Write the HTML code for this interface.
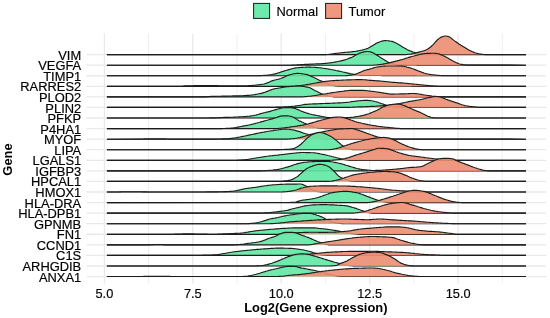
<!DOCTYPE html><html><head><meta charset="utf-8"><style>html,body{margin:0;padding:0;background:#fff;}svg{display:block;}text{font-family:"Liberation Sans",Arial,sans-serif;}</style></head><body>
<svg width="550" height="318" viewBox="0 0 550 318">
<rect width="550" height="318" fill="#fff"/>
<line x1="148.61" y1="33.6" x2="148.61" y2="283.5" stroke="#E9E9E9" stroke-width="0.75"/>
<line x1="237.04" y1="33.6" x2="237.04" y2="283.5" stroke="#E9E9E9" stroke-width="0.75"/>
<line x1="325.46" y1="33.6" x2="325.46" y2="283.5" stroke="#E9E9E9" stroke-width="0.75"/>
<line x1="413.89" y1="33.6" x2="413.89" y2="283.5" stroke="#E9E9E9" stroke-width="0.75"/>
<line x1="502.31" y1="33.6" x2="502.31" y2="283.5" stroke="#E9E9E9" stroke-width="0.75"/>
<line x1="104.4" y1="33.6" x2="104.4" y2="283.5" stroke="#E9E9E9" stroke-width="1.3"/>
<line x1="192.82" y1="33.6" x2="192.82" y2="283.5" stroke="#E9E9E9" stroke-width="1.3"/>
<line x1="281.25" y1="33.6" x2="281.25" y2="283.5" stroke="#E9E9E9" stroke-width="1.3"/>
<line x1="369.67" y1="33.6" x2="369.67" y2="283.5" stroke="#E9E9E9" stroke-width="1.3"/>
<line x1="458.1" y1="33.6" x2="458.1" y2="283.5" stroke="#E9E9E9" stroke-width="1.3"/>
<line x1="86.5" y1="54.6" x2="546.0" y2="54.6" stroke="#E9E9E9" stroke-width="1.3"/>
<line x1="86.5" y1="65.17" x2="546.0" y2="65.17" stroke="#E9E9E9" stroke-width="1.3"/>
<line x1="86.5" y1="75.74" x2="546.0" y2="75.74" stroke="#E9E9E9" stroke-width="1.3"/>
<line x1="86.5" y1="86.31" x2="546.0" y2="86.31" stroke="#E9E9E9" stroke-width="1.3"/>
<line x1="86.5" y1="96.88" x2="546.0" y2="96.88" stroke="#E9E9E9" stroke-width="1.3"/>
<line x1="86.5" y1="107.45" x2="546.0" y2="107.45" stroke="#E9E9E9" stroke-width="1.3"/>
<line x1="86.5" y1="118.01" x2="546.0" y2="118.01" stroke="#E9E9E9" stroke-width="1.3"/>
<line x1="86.5" y1="128.58" x2="546.0" y2="128.58" stroke="#E9E9E9" stroke-width="1.3"/>
<line x1="86.5" y1="139.15" x2="546.0" y2="139.15" stroke="#E9E9E9" stroke-width="1.3"/>
<line x1="86.5" y1="149.72" x2="546.0" y2="149.72" stroke="#E9E9E9" stroke-width="1.3"/>
<line x1="86.5" y1="160.29" x2="546.0" y2="160.29" stroke="#E9E9E9" stroke-width="1.3"/>
<line x1="86.5" y1="170.86" x2="546.0" y2="170.86" stroke="#E9E9E9" stroke-width="1.3"/>
<line x1="86.5" y1="181.43" x2="546.0" y2="181.43" stroke="#E9E9E9" stroke-width="1.3"/>
<line x1="86.5" y1="192" x2="546.0" y2="192" stroke="#E9E9E9" stroke-width="1.3"/>
<line x1="86.5" y1="202.57" x2="546.0" y2="202.57" stroke="#E9E9E9" stroke-width="1.3"/>
<line x1="86.5" y1="213.14" x2="546.0" y2="213.14" stroke="#E9E9E9" stroke-width="1.3"/>
<line x1="86.5" y1="223.7" x2="546.0" y2="223.7" stroke="#E9E9E9" stroke-width="1.3"/>
<line x1="86.5" y1="234.27" x2="546.0" y2="234.27" stroke="#E9E9E9" stroke-width="1.3"/>
<line x1="86.5" y1="244.84" x2="546.0" y2="244.84" stroke="#E9E9E9" stroke-width="1.3"/>
<line x1="86.5" y1="255.41" x2="546.0" y2="255.41" stroke="#E9E9E9" stroke-width="1.3"/>
<line x1="86.5" y1="265.98" x2="546.0" y2="265.98" stroke="#E9E9E9" stroke-width="1.3"/>
<line x1="86.5" y1="276.55" x2="546.0" y2="276.55" stroke="#E9E9E9" stroke-width="1.3"/>
<path d="M106.9 54.6L325.9 54.6L326.9 54.5L327.9 54.5L328.9 54.4L329.9 54.2L330.9 54.1L331.9 54L332.9 53.8L333.9 53.7L334.9 53.5L335.9 53.4L336.9 53.3L337.9 53.2L338.9 53.1L339.9 53L340.9 52.8L341.9 52.7L342.9 52.6L343.9 52.5L344.9 52.4L345.9 52.3L346.9 52.2L347.9 52.1L348.9 52.1L349.9 52L350.9 51.9L351.9 51.8L352.9 51.6L353.9 51.5L354.9 51.4L355.9 51.2L356.9 51.1L357.9 50.9L358.9 50.7L359.9 50.5L360.9 50.3L361.9 50.1L362.9 49.8L363.9 49.6L364.9 49.3L365.9 49L366.9 48.6L367.9 48.2L368.9 47.7L369.9 47.2L370.9 46.6L371.9 46L372.9 45.4L373.9 44.8L374.9 44.2L375.9 43.6L376.9 43L377.9 42.6L378.9 42.2L379.9 41.8L380.9 41.5L381.9 41.1L382.9 40.9L383.9 40.7L384.9 40.6L385.9 40.6L386.9 40.7L387.9 40.8L388.9 40.9L389.9 41L390.9 41.2L391.9 41.4L392.9 41.6L393.9 42L394.9 42.5L395.9 43L396.9 43.6L397.9 44.1L398.9 44.7L399.9 45.3L400.9 45.9L401.9 46.5L402.9 47.2L403.9 47.8L404.9 48.3L405.9 48.8L406.9 49.4L407.9 49.9L408.9 50.4L409.9 50.8L410.9 51.2L411.9 51.6L412.9 52L413.9 52.3L414.9 52.6L415.9 52.8L416.9 53.1L417.9 53.3L418.9 53.5L419.9 53.8L420.9 53.9L421.9 54.1L422.9 54.2L423.9 54.3L424.9 54.4L425.9 54.5L426.9 54.6L427.9 54.6L526 54.6" fill="#60E8A3" fill-opacity="0.9" stroke="#1c1c1c" stroke-width="1.15"/>

<path d="M106.9 54.6L405.9 54.6L406.9 54.5L407.9 54.4L408.9 54.3L409.9 54.2L410.9 54.1L411.9 53.9L412.9 53.7L413.9 53.5L414.9 53.3L415.9 53L416.9 52.7L417.9 52.4L418.9 52.1L419.9 51.8L420.9 51.6L421.9 51.3L422.9 51L423.9 50.7L424.9 50.4L425.9 50L426.9 49.5L427.9 48.9L428.9 48.3L429.9 47.5L430.9 46.7L431.9 45.8L432.9 44.9L433.9 43.9L434.9 42.7L435.9 41.5L436.9 40.4L437.9 39.5L438.9 38.6L439.9 37.9L440.9 37.3L441.9 36.9L442.9 36.5L443.9 36.2L444.9 36L445.9 36L446.9 36.2L447.9 36.4L448.9 36.8L449.9 37.2L450.9 37.9L451.9 38.8L452.9 39.6L453.9 40.4L454.9 41.1L455.9 41.8L456.9 42.5L457.9 43.2L458.9 43.9L459.9 44.5L460.9 45.2L461.9 45.8L462.9 46.4L463.9 47L464.9 47.6L465.9 48.2L466.9 48.8L467.9 49.4L468.9 50L469.9 50.5L470.9 51L471.9 51.5L472.9 51.9L473.9 52.3L474.9 52.7L475.9 53L476.9 53.3L477.9 53.6L478.9 53.8L479.9 54L480.9 54.1L481.9 54.3L482.9 54.4L483.9 54.5L484.9 54.6L485.9 54.6L526 54.6" fill="#EC8D72" fill-opacity="0.9" stroke="#1c1c1c" stroke-width="1.15"/>

<path d="M106.9 65.2L290.9 65.2L291.9 65.1L292.9 65.1L293.9 65.1L294.9 65L295.9 65L296.9 64.9L297.9 64.8L298.9 64.8L299.9 64.7L300.9 64.6L301.9 64.6L302.9 64.5L303.9 64.5L304.9 64.4L305.9 64.4L306.9 64.3L307.9 64.3L308.9 64.3L309.9 64.2L310.9 64.2L311.9 64.1L312.9 64.1L313.9 64L314.9 64L315.9 63.9L316.9 63.9L317.9 63.9L318.9 63.8L319.9 63.8L320.9 63.7L321.9 63.6L322.9 63.6L323.9 63.5L324.9 63.4L325.9 63.4L326.9 63.3L327.9 63.1L328.9 63L329.9 62.9L330.9 62.8L331.9 62.6L332.9 62.5L333.9 62.3L334.9 62.1L335.9 61.9L336.9 61.7L337.9 61.5L338.9 61.3L339.9 61.1L340.9 60.9L341.9 60.6L342.9 60.4L343.9 60.1L344.9 59.9L345.9 59.5L346.9 59.2L347.9 58.8L348.9 58.4L349.9 58L350.9 57.6L351.9 57.2L352.9 56.7L353.9 56.2L354.9 55.6L355.9 55.1L356.9 54.6L357.9 54.1L358.9 53.6L359.9 53.1L360.9 52.7L361.9 52.4L362.9 52.2L363.9 51.9L364.9 51.7L365.9 51.6L366.9 51.5L367.9 51.5L368.9 51.6L369.9 51.8L370.9 52.1L371.9 52.4L372.9 52.7L373.9 53.3L374.9 53.9L375.9 54.5L376.9 55.2L377.9 55.8L378.9 56.4L379.9 57.1L380.9 57.8L381.9 58.4L382.9 59L383.9 59.6L384.9 60.2L385.9 60.8L386.9 61.4L387.9 61.9L388.9 62.4L389.9 62.9L390.9 63.3L391.9 63.6L392.9 63.8L393.9 64.1L394.9 64.3L395.9 64.5L396.9 64.7L397.9 64.9L398.9 65L399.9 65L400.9 65L401.9 65L402.9 65L403.9 65L404.9 65L405.9 65L406.9 65L407.9 65L408.9 65L409.9 65L410.9 65L411.9 65L412.9 65L413.9 65L414.9 65L415.9 65L416.9 65.1L417.9 65.1L418.9 65.1L419.9 65.1L420.9 65.1L421.9 65.1L422.9 65.1L423.9 65.1L424.9 65.1L425.9 65.1L426.9 65.1L427.9 65.1L428.9 65.1L429.9 65.1L430.9 65.1L431.9 65.1L432.9 65.1L433.9 65.1L434.9 65.1L435.9 65.1L436.9 65.1L437.9 65.1L438.9 65.1L439.9 65.1L440.9 65.1L441.9 65.1L442.9 65.1L443.9 65.1L444.9 65.1L445.9 65.1L446.9 65.1L447.9 65.1L448.9 65.1L449.9 65.1L450.9 65.1L451.9 65.1L452.9 65.1L453.9 65.1L454.9 65.1L455.9 65.1L456.9 65.1L457.9 65.1L458.9 65.1L459.9 65.1L460.9 65.1L461.9 65.1L462.9 65.1L463.9 65.1L464.9 65.1L465.9 65.1L466.9 65.1L467.9 65.1L468.9 65.1L469.9 65.1L526 65.2" fill="#60E8A3" fill-opacity="0.9" stroke="#1c1c1c" stroke-width="1.15"/>

<path d="M106.9 65.2L372.9 65.2L373.9 65.1L374.9 65L375.9 65L376.9 64.9L377.9 64.7L378.9 64.6L379.9 64.5L380.9 64.4L381.9 64.2L382.9 64.1L383.9 63.9L384.9 63.7L385.9 63.5L386.9 63.3L387.9 63.1L388.9 62.9L389.9 62.6L390.9 62.4L391.9 62.1L392.9 61.9L393.9 61.6L394.9 61.4L395.9 61.1L396.9 60.9L397.9 60.6L398.9 60.4L399.9 60.1L400.9 59.8L401.9 59.6L402.9 59.3L403.9 59L404.9 58.6L405.9 58.3L406.9 58L407.9 57.7L408.9 57.4L409.9 57.1L410.9 56.8L411.9 56.5L412.9 56.2L413.9 56L414.9 55.7L415.9 55.4L416.9 55.2L417.9 54.9L418.9 54.7L419.9 54.5L420.9 54.3L421.9 54.1L422.9 53.9L423.9 53.8L424.9 53.6L425.9 53.5L426.9 53.4L427.9 53.3L428.9 53.3L429.9 53.3L430.9 53.2L431.9 53.2L432.9 53.2L433.9 53.2L434.9 53.3L435.9 53.4L436.9 53.5L437.9 53.7L438.9 53.9L439.9 54.3L440.9 54.7L441.9 55.1L442.9 55.6L443.9 56L444.9 56.5L445.9 57L446.9 57.6L447.9 58.1L448.9 58.7L449.9 59.3L450.9 59.8L451.9 60.4L452.9 60.9L453.9 61.4L454.9 61.9L455.9 62.4L456.9 62.9L457.9 63.3L458.9 63.7L459.9 64L460.9 64.2L461.9 64.4L462.9 64.6L463.9 64.7L464.9 64.9L465.9 65L466.9 65.1L467.9 65.1L468.9 65.1L469.9 65.1L470.9 65.1L471.9 65.1L472.9 65.1L473.9 65.1L474.9 65.1L475.9 65.1L476.9 65.1L477.9 65.1L478.9 65.1L479.9 65.1L480.9 65.1L481.9 65.1L482.9 65.1L483.9 65.1L484.9 65.1L485.9 65.1L486.9 65.1L487.9 65.1L488.9 65.1L489.9 65.1L490.9 65.1L491.9 65.1L526 65.2" fill="#EC8D72" fill-opacity="0.9" stroke="#1c1c1c" stroke-width="1.15"/>

<path d="M106.9 75.7L210.9 75.7L211.9 75.7L212.9 75.7L213.9 75.7L214.9 75.7L215.9 75.7L216.9 75.7L217.9 75.7L218.9 75.7L219.9 75.7L220.9 75.7L221.9 75.7L222.9 75.7L223.9 75.7L224.9 75.7L225.9 75.7L226.9 75.7L227.9 75.7L228.9 75.7L229.9 75.7L230.9 75.7L231.9 75.7L232.9 75.7L233.9 75.7L234.9 75.7L235.9 75.7L236.9 75.7L237.9 75.7L238.9 75.7L239.9 75.7L240.9 75.7L241.9 75.7L242.9 75.7L243.9 75.7L244.9 75.7L245.9 75.7L246.9 75.7L247.9 75.7L248.9 75.7L249.9 75.7L250.9 75.7L251.9 75.7L252.9 75.7L253.9 75.7L254.9 75.7L255.9 75.7L256.9 75.7L257.9 75.7L258.9 75.6L259.9 75.6L260.9 75.6L261.9 75.5L262.9 75.5L263.9 75.4L264.9 75.4L265.9 75.3L266.9 75.2L267.9 75.1L268.9 75L269.9 74.8L270.9 74.7L271.9 74.5L272.9 74.3L273.9 74.1L274.9 73.9L275.9 73.6L276.9 73.4L277.9 73L278.9 72.7L279.9 72.4L280.9 72L281.9 71.7L282.9 71.4L283.9 71.1L284.9 70.8L285.9 70.5L286.9 70.2L287.9 69.9L288.9 69.6L289.9 69.3L290.9 69.1L291.9 68.8L292.9 68.5L293.9 68.3L294.9 68.1L295.9 67.9L296.9 67.8L297.9 67.7L298.9 67.6L299.9 67.5L300.9 67.4L301.9 67.3L302.9 67.3L303.9 67.2L304.9 67.2L305.9 67.1L306.9 67.1L307.9 67.1L308.9 67.1L309.9 67.1L310.9 67.1L311.9 67.2L312.9 67.2L313.9 67.3L314.9 67.4L315.9 67.4L316.9 67.5L317.9 67.6L318.9 67.7L319.9 67.8L320.9 67.9L321.9 68L322.9 68.2L323.9 68.3L324.9 68.5L325.9 68.6L326.9 68.8L327.9 69L328.9 69.1L329.9 69.3L330.9 69.5L331.9 69.7L332.9 69.8L333.9 70L334.9 70.2L335.9 70.5L336.9 70.7L337.9 70.9L338.9 71.1L339.9 71.3L340.9 71.5L341.9 71.8L342.9 72L343.9 72.2L344.9 72.4L345.9 72.7L346.9 72.9L347.9 73.1L348.9 73.3L349.9 73.6L350.9 73.8L351.9 74L352.9 74.1L353.9 74.3L354.9 74.4L355.9 74.6L356.9 74.7L357.9 74.9L358.9 75L359.9 75.1L360.9 75.3L361.9 75.3L362.9 75.4L363.9 75.5L364.9 75.5L365.9 75.5L366.9 75.5L367.9 75.5L368.9 75.5L369.9 75.5L370.9 75.5L371.9 75.5L372.9 75.5L373.9 75.5L374.9 75.5L375.9 75.5L376.9 75.5L377.9 75.5L378.9 75.5L379.9 75.5L380.9 75.5L381.9 75.6L382.9 75.6L383.9 75.6L384.9 75.6L385.9 75.6L386.9 75.6L387.9 75.6L388.9 75.6L389.9 75.6L390.9 75.6L391.9 75.6L392.9 75.6L393.9 75.6L394.9 75.6L395.9 75.6L396.9 75.6L397.9 75.6L398.9 75.6L399.9 75.6L400.9 75.6L401.9 75.6L402.9 75.6L403.9 75.6L404.9 75.6L405.9 75.6L406.9 75.6L407.9 75.6L408.9 75.6L409.9 75.6L410.9 75.6L411.9 75.6L412.9 75.6L413.9 75.6L414.9 75.6L415.9 75.6L416.9 75.7L417.9 75.7L418.9 75.7L419.9 75.7L420.9 75.7L421.9 75.7L422.9 75.7L423.9 75.7L424.9 75.7L425.9 75.7L426.9 75.7L427.9 75.7L428.9 75.7L429.9 75.7L430.9 75.7L431.9 75.7L432.9 75.7L433.9 75.7L434.9 75.7L435.9 75.7L436.9 75.7L437.9 75.7L438.9 75.7L439.9 75.7L440.9 75.7L441.9 75.7L442.9 75.7L443.9 75.7L444.9 75.7L445.9 75.7L446.9 75.7L447.9 75.7L448.9 75.7L449.9 75.7L450.9 75.7L451.9 75.7L452.9 75.7L453.9 75.7L454.9 75.7L455.9 75.7L456.9 75.7L457.9 75.7L458.9 75.7L459.9 75.7L460.9 75.7L461.9 75.7L462.9 75.7L463.9 75.7L464.9 75.7L526 75.7" fill="#60E8A3" fill-opacity="0.9" stroke="#1c1c1c" stroke-width="1.15"/>

<path d="M106.9 75.7L276.9 75.7L277.9 75.7L278.9 75.7L279.9 75.7L280.9 75.7L281.9 75.7L282.9 75.7L283.9 75.7L284.9 75.7L285.9 75.7L286.9 75.7L287.9 75.7L288.9 75.7L289.9 75.7L290.9 75.7L291.9 75.7L292.9 75.7L293.9 75.7L294.9 75.7L295.9 75.7L296.9 75.7L297.9 75.7L298.9 75.7L299.9 75.7L300.9 75.7L301.9 75.7L302.9 75.7L303.9 75.7L304.9 75.7L305.9 75.7L306.9 75.7L307.9 75.7L308.9 75.7L309.9 75.7L310.9 75.7L311.9 75.7L312.9 75.7L313.9 75.7L314.9 75.7L315.9 75.7L316.9 75.7L317.9 75.7L318.9 75.7L319.9 75.7L320.9 75.7L321.9 75.7L322.9 75.7L323.9 75.7L324.9 75.7L325.9 75.7L326.9 75.7L327.9 75.7L328.9 75.7L329.9 75.7L330.9 75.7L331.9 75.7L332.9 75.7L333.9 75.7L334.9 75.7L335.9 75.7L336.9 75.7L337.9 75.7L338.9 75.7L339.9 75.7L340.9 75.7L341.9 75.7L342.9 75.7L343.9 75.7L344.9 75.7L345.9 75.7L346.9 75.6L347.9 75.5L348.9 75.4L349.9 75.3L350.9 75.1L351.9 75L352.9 74.8L353.9 74.6L354.9 74.4L355.9 74.1L356.9 73.7L357.9 73.3L358.9 72.8L359.9 72.4L360.9 71.9L361.9 71.4L362.9 71L363.9 70.6L364.9 70.3L365.9 70.1L366.9 69.8L367.9 69.6L368.9 69.4L369.9 69.1L370.9 68.8L371.9 68.5L372.9 68.1L373.9 67.8L374.9 67.5L375.9 67.2L376.9 67L377.9 66.9L378.9 66.7L379.9 66.6L380.9 66.4L381.9 66.3L382.9 66.2L383.9 66.1L384.9 66.1L385.9 66L386.9 66L387.9 66L388.9 66L389.9 66L390.9 66L391.9 66L392.9 66L393.9 66L394.9 66L395.9 66L396.9 66L397.9 66L398.9 66L399.9 66L400.9 66L401.9 66.1L402.9 66.2L403.9 66.3L404.9 66.6L405.9 66.8L406.9 67.1L407.9 67.3L408.9 67.6L409.9 67.8L410.9 68.1L411.9 68.5L412.9 68.8L413.9 69.2L414.9 69.6L415.9 70L416.9 70.4L417.9 70.8L418.9 71.1L419.9 71.5L420.9 71.9L421.9 72.3L422.9 72.6L423.9 73L424.9 73.3L425.9 73.6L426.9 73.8L427.9 74L428.9 74.2L429.9 74.4L430.9 74.5L431.9 74.7L432.9 74.8L433.9 74.9L434.9 75L435.9 75.1L436.9 75.2L437.9 75.3L438.9 75.4L439.9 75.5L440.9 75.5L441.9 75.6L442.9 75.6L443.9 75.7L444.9 75.7L445.9 75.7L446.9 75.7L447.9 75.7L448.9 75.7L449.9 75.7L450.9 75.7L451.9 75.7L452.9 75.7L453.9 75.7L454.9 75.7L455.9 75.7L456.9 75.7L457.9 75.7L458.9 75.7L459.9 75.7L460.9 75.7L461.9 75.7L462.9 75.7L463.9 75.7L464.9 75.7L465.9 75.7L466.9 75.7L467.9 75.7L468.9 75.7L469.9 75.7L526 75.7" fill="#EC8D72" fill-opacity="0.9" stroke="#1c1c1c" stroke-width="1.15"/>

<path d="M106.9 86.3L180.9 86.3L181.9 86.2L182.9 86.1L183.9 86L184.9 85.9L185.9 85.8L186.9 85.8L187.9 85.7L188.9 85.7L189.9 85.7L190.9 85.7L191.9 85.7L192.9 85.7L193.9 85.6L194.9 85.6L195.9 85.6L196.9 85.6L197.9 85.6L198.9 85.6L199.9 85.6L200.9 85.6L201.9 85.6L202.9 85.6L203.9 85.6L204.9 85.6L205.9 85.6L206.9 85.6L207.9 85.6L208.9 85.6L209.9 85.6L210.9 85.6L211.9 85.6L212.9 85.6L213.9 85.6L214.9 85.6L215.9 85.6L216.9 85.6L217.9 85.6L218.9 85.7L219.9 85.7L220.9 85.7L221.9 85.7L222.9 85.7L223.9 85.7L224.9 85.7L225.9 85.8L226.9 85.8L227.9 85.8L228.9 85.8L229.9 85.9L230.9 85.9L231.9 85.9L232.9 85.9L233.9 85.9L234.9 85.9L235.9 85.9L236.9 85.9L237.9 85.9L238.9 85.9L239.9 85.9L240.9 85.9L241.9 85.8L242.9 85.8L243.9 85.8L244.9 85.8L245.9 85.7L246.9 85.7L247.9 85.7L248.9 85.6L249.9 85.6L250.9 85.5L251.9 85.5L252.9 85.4L253.9 85.3L254.9 85.2L255.9 85.1L256.9 85L257.9 84.9L258.9 84.8L259.9 84.6L260.9 84.5L261.9 84.3L262.9 84.2L263.9 84L264.9 83.7L265.9 83.4L266.9 83L267.9 82.6L268.9 82.2L269.9 81.7L270.9 81.3L271.9 80.9L272.9 80.6L273.9 80.3L274.9 80L275.9 79.8L276.9 79.5L277.9 79.3L278.9 79.1L279.9 78.8L280.9 78.5L281.9 78.1L282.9 77.6L283.9 77.2L284.9 76.7L285.9 76.2L286.9 75.8L287.9 75.4L288.9 75.1L289.9 74.8L290.9 74.6L291.9 74.3L292.9 74L293.9 73.8L294.9 73.6L295.9 73.5L296.9 73.4L297.9 73.4L298.9 73.4L299.9 73.5L300.9 73.6L301.9 73.7L302.9 73.9L303.9 74L304.9 74.2L305.9 74.4L306.9 74.6L307.9 74.9L308.9 75.3L309.9 75.7L310.9 76.2L311.9 76.6L312.9 77.1L313.9 77.6L314.9 78.1L315.9 78.6L316.9 79.1L317.9 79.6L318.9 80.1L319.9 80.5L320.9 80.9L321.9 81.3L322.9 81.7L323.9 82.1L324.9 82.5L325.9 83L326.9 83.4L327.9 83.9L328.9 84.2L329.9 84.6L330.9 84.8L331.9 85.1L332.9 85.3L333.9 85.6L334.9 85.8L335.9 85.9L336.9 86L337.9 86.1L338.9 86.1L339.9 86.1L340.9 86.1L341.9 86.1L342.9 86.1L343.9 86.1L344.9 86.1L345.9 86.1L346.9 86.1L347.9 86.1L348.9 86.1L349.9 86.1L350.9 86.1L351.9 86.1L352.9 86.1L353.9 86.1L354.9 86.1L355.9 86.1L356.9 86.1L357.9 86.1L358.9 86.1L359.9 86.1L360.9 86.1L361.9 86.2L362.9 86.2L363.9 86.2L364.9 86.2L365.9 86.2L366.9 86.2L367.9 86.2L368.9 86.2L369.9 86.2L370.9 86.2L371.9 86.2L372.9 86.2L373.9 86.2L374.9 86.2L375.9 86.2L376.9 86.2L377.9 86.2L378.9 86.2L379.9 86.2L380.9 86.2L381.9 86.2L382.9 86.2L383.9 86.2L384.9 86.2L385.9 86.2L386.9 86.2L387.9 86.2L388.9 86.2L389.9 86.2L390.9 86.2L391.9 86.2L392.9 86.2L393.9 86.2L394.9 86.2L395.9 86.2L396.9 86.2L397.9 86.2L398.9 86.2L399.9 86.2L400.9 86.2L401.9 86.2L402.9 86.2L403.9 86.2L404.9 86.2L405.9 86.2L406.9 86.2L407.9 86.2L408.9 86.2L409.9 86.2L410.9 86.2L411.9 86.3L412.9 86.3L413.9 86.3L414.9 86.3L415.9 86.3L416.9 86.3L417.9 86.3L418.9 86.3L419.9 86.3L420.9 86.3L421.9 86.3L422.9 86.3L423.9 86.3L424.9 86.3L425.9 86.3L426.9 86.3L427.9 86.3L428.9 86.3L429.9 86.3L430.9 86.3L431.9 86.3L432.9 86.3L433.9 86.3L434.9 86.3L435.9 86.3L436.9 86.3L437.9 86.3L438.9 86.3L439.9 86.3L440.9 86.3L441.9 86.3L442.9 86.3L443.9 86.3L444.9 86.3L445.9 86.3L446.9 86.3L447.9 86.3L526 86.3" fill="#60E8A3" fill-opacity="0.9" stroke="#1c1c1c" stroke-width="1.15"/>

<path d="M106.9 86.3L290.9 86.3L291.9 86.3L292.9 86.2L293.9 86.2L294.9 86.1L295.9 86L296.9 85.9L297.9 85.8L298.9 85.7L299.9 85.6L300.9 85.5L301.9 85.4L302.9 85.2L303.9 85.1L304.9 85L305.9 84.8L306.9 84.6L307.9 84.4L308.9 84.2L309.9 84.1L310.9 83.9L311.9 83.7L312.9 83.5L313.9 83.3L314.9 83.2L315.9 83L316.9 82.8L317.9 82.6L318.9 82.4L319.9 82.2L320.9 82.1L321.9 81.9L322.9 81.8L323.9 81.6L324.9 81.5L325.9 81.4L326.9 81.3L327.9 81.1L328.9 81L329.9 80.9L330.9 80.8L331.9 80.7L332.9 80.6L333.9 80.6L334.9 80.5L335.9 80.4L336.9 80.4L337.9 80.3L338.9 80.3L339.9 80.2L340.9 80.2L341.9 80.1L342.9 80.1L343.9 80L344.9 80L345.9 80L346.9 79.9L347.9 79.9L348.9 79.9L349.9 79.8L350.9 79.8L351.9 79.7L352.9 79.7L353.9 79.7L354.9 79.7L355.9 79.6L356.9 79.6L357.9 79.6L358.9 79.6L359.9 79.6L360.9 79.6L361.9 79.6L362.9 79.7L363.9 79.7L364.9 79.8L365.9 79.9L366.9 80L367.9 80.1L368.9 80.2L369.9 80.3L370.9 80.3L371.9 80.4L372.9 80.5L373.9 80.6L374.9 80.6L375.9 80.7L376.9 80.8L377.9 80.8L378.9 80.9L379.9 81L380.9 81.1L381.9 81.2L382.9 81.3L383.9 81.4L384.9 81.5L385.9 81.6L386.9 81.7L387.9 81.8L388.9 81.9L389.9 82L390.9 82.1L391.9 82.2L392.9 82.3L393.9 82.3L394.9 82.4L395.9 82.5L396.9 82.6L397.9 82.6L398.9 82.7L399.9 82.8L400.9 82.8L401.9 82.9L402.9 83L403.9 83.1L404.9 83.2L405.9 83.3L406.9 83.4L407.9 83.5L408.9 83.6L409.9 83.7L410.9 83.8L411.9 83.9L412.9 84L413.9 84.1L414.9 84.2L415.9 84.3L416.9 84.4L417.9 84.5L418.9 84.6L419.9 84.7L420.9 84.8L421.9 84.9L422.9 85L423.9 85.1L424.9 85.2L425.9 85.3L426.9 85.4L427.9 85.5L428.9 85.6L429.9 85.7L430.9 85.8L431.9 85.9L432.9 85.9L433.9 86L434.9 86.1L435.9 86.1L436.9 86.1L437.9 86.2L438.9 86.2L439.9 86.2L440.9 86.3L441.9 86.3L442.9 86.3L526 86.3" fill="#EC8D72" fill-opacity="0.9" stroke="#1c1c1c" stroke-width="1.15"/>

<path d="M106.9 96.9L203.9 96.9L204.9 96.8L205.9 96.8L206.9 96.7L207.9 96.6L208.9 96.6L209.9 96.5L210.9 96.4L211.9 96.4L212.9 96.3L213.9 96.3L214.9 96.3L215.9 96.3L216.9 96.2L217.9 96.2L218.9 96.2L219.9 96.2L220.9 96.2L221.9 96.1L222.9 96.1L223.9 96.1L224.9 96.1L225.9 96.1L226.9 96L227.9 96L228.9 96L229.9 96L230.9 96L231.9 96L232.9 95.9L233.9 95.9L234.9 95.9L235.9 95.9L236.9 95.9L237.9 95.8L238.9 95.8L239.9 95.8L240.9 95.7L241.9 95.7L242.9 95.7L243.9 95.6L244.9 95.5L245.9 95.5L246.9 95.4L247.9 95.3L248.9 95.3L249.9 95.2L250.9 95.1L251.9 95L252.9 94.9L253.9 94.7L254.9 94.6L255.9 94.4L256.9 94.2L257.9 94L258.9 93.8L259.9 93.6L260.9 93.4L261.9 93.1L262.9 92.9L263.9 92.6L264.9 92.3L265.9 91.9L266.9 91.5L267.9 91.1L268.9 90.7L269.9 90.3L270.9 89.9L271.9 89.5L272.9 89.2L273.9 88.9L274.9 88.7L275.9 88.5L276.9 88.4L277.9 88.2L278.9 88L279.9 87.9L280.9 87.7L281.9 87.5L282.9 87.4L283.9 87.2L284.9 87L285.9 86.9L286.9 86.8L287.9 86.6L288.9 86.6L289.9 86.5L290.9 86.4L291.9 86.3L292.9 86.3L293.9 86.2L294.9 86.2L295.9 86.1L296.9 86.1L297.9 86.1L298.9 86.1L299.9 86.1L300.9 86.1L301.9 86.2L302.9 86.4L303.9 86.5L304.9 86.7L305.9 86.9L306.9 87.1L307.9 87.3L308.9 87.5L309.9 87.8L310.9 88.2L311.9 88.8L312.9 89.4L313.9 89.9L314.9 90.5L315.9 91L316.9 91.5L317.9 92L318.9 92.5L319.9 93L320.9 93.5L321.9 93.9L322.9 94.3L323.9 94.7L324.9 95L325.9 95.4L326.9 95.6L327.9 95.9L328.9 96L329.9 96.2L330.9 96.4L331.9 96.5L332.9 96.7L333.9 96.8L334.9 96.8L335.9 96.9L526 96.9" fill="#60E8A3" fill-opacity="0.9" stroke="#1c1c1c" stroke-width="1.15"/>

<path d="M106.9 96.9L300.9 96.9L301.9 96.8L302.9 96.8L303.9 96.7L304.9 96.6L305.9 96.6L306.9 96.5L307.9 96.4L308.9 96.3L309.9 96.2L310.9 96.1L311.9 96L312.9 95.8L313.9 95.7L314.9 95.5L315.9 95.4L316.9 95.2L317.9 95L318.9 94.8L319.9 94.7L320.9 94.5L321.9 94.3L322.9 94.2L323.9 94L324.9 93.9L325.9 93.7L326.9 93.6L327.9 93.4L328.9 93.2L329.9 93.1L330.9 92.9L331.9 92.8L332.9 92.6L333.9 92.5L334.9 92.3L335.9 92.2L336.9 92L337.9 91.9L338.9 91.8L339.9 91.6L340.9 91.5L341.9 91.4L342.9 91.2L343.9 91.1L344.9 90.9L345.9 90.8L346.9 90.7L347.9 90.6L348.9 90.5L349.9 90.4L350.9 90.4L351.9 90.4L352.9 90.3L353.9 90.3L354.9 90.3L355.9 90.3L356.9 90.3L357.9 90.3L358.9 90.3L359.9 90.3L360.9 90.3L361.9 90.3L362.9 90.4L363.9 90.4L364.9 90.5L365.9 90.6L366.9 90.7L367.9 90.8L368.9 91L369.9 91.1L370.9 91.2L371.9 91.3L372.9 91.4L373.9 91.5L374.9 91.7L375.9 91.8L376.9 92L377.9 92.1L378.9 92.3L379.9 92.4L380.9 92.6L381.9 92.7L382.9 92.9L383.9 93.1L384.9 93.3L385.9 93.4L386.9 93.6L387.9 93.8L388.9 93.9L389.9 94L390.9 94.1L391.9 94.1L392.9 94.1L393.9 94.1L394.9 94L395.9 94L396.9 94L397.9 94L398.9 94L399.9 93.9L400.9 93.9L401.9 93.9L402.9 93.9L403.9 93.8L404.9 93.8L405.9 93.7L406.9 93.7L407.9 93.7L408.9 93.6L409.9 93.6L410.9 93.5L411.9 93.5L412.9 93.5L413.9 93.5L414.9 93.5L415.9 93.6L416.9 93.7L417.9 93.8L418.9 94L419.9 94.2L420.9 94.4L421.9 94.6L422.9 94.7L423.9 94.9L424.9 95L425.9 95.2L426.9 95.3L427.9 95.5L428.9 95.6L429.9 95.8L430.9 95.9L431.9 96.1L432.9 96.2L433.9 96.3L434.9 96.4L435.9 96.4L436.9 96.5L437.9 96.6L438.9 96.6L439.9 96.7L440.9 96.8L441.9 96.8L442.9 96.8L443.9 96.9L526 96.9" fill="#EC8D72" fill-opacity="0.9" stroke="#1c1c1c" stroke-width="1.15"/>

<path d="M106.9 107.4L248.9 107.4L249.9 107.4L250.9 107.4L251.9 107.4L252.9 107.4L253.9 107.4L254.9 107.4L255.9 107.4L256.9 107.4L257.9 107.4L258.9 107.4L259.9 107.3L260.9 107.3L261.9 107.3L262.9 107.3L263.9 107.3L264.9 107.3L265.9 107.3L266.9 107.3L267.9 107.3L268.9 107.2L269.9 107.2L270.9 107.2L271.9 107.2L272.9 107.2L273.9 107.2L274.9 107.2L275.9 107.1L276.9 107.1L277.9 107.1L278.9 107.1L279.9 107.1L280.9 107L281.9 107L282.9 107L283.9 106.9L284.9 106.9L285.9 106.8L286.9 106.8L287.9 106.7L288.9 106.6L289.9 106.6L290.9 106.5L291.9 106.4L292.9 106.3L293.9 106.2L294.9 106.1L295.9 105.9L296.9 105.8L297.9 105.7L298.9 105.5L299.9 105.4L300.9 105.2L301.9 105L302.9 104.8L303.9 104.6L304.9 104.4L305.9 104.3L306.9 104.3L307.9 104.2L308.9 104.1L309.9 104.1L310.9 104L311.9 104L312.9 103.9L313.9 103.9L314.9 103.8L315.9 103.8L316.9 103.8L317.9 103.7L318.9 103.7L319.9 103.6L320.9 103.6L321.9 103.6L322.9 103.5L323.9 103.5L324.9 103.5L325.9 103.4L326.9 103.4L327.9 103.3L328.9 103.3L329.9 103.3L330.9 103.2L331.9 103.2L332.9 103.1L333.9 103.1L334.9 103.1L335.9 103L336.9 103L337.9 102.9L338.9 102.9L339.9 102.8L340.9 102.8L341.9 102.7L342.9 102.7L343.9 102.6L344.9 102.5L345.9 102.5L346.9 102.4L347.9 102.3L348.9 102.2L349.9 102L350.9 101.8L351.9 101.6L352.9 101.5L353.9 101.4L354.9 101.3L355.9 101.1L356.9 101L357.9 100.9L358.9 100.8L359.9 100.7L360.9 100.6L361.9 100.5L362.9 100.5L363.9 100.4L364.9 100.4L365.9 100.4L366.9 100.4L367.9 100.4L368.9 100.5L369.9 100.6L370.9 100.7L371.9 100.8L372.9 101L373.9 101.2L374.9 101.5L375.9 101.7L376.9 102L377.9 102.3L378.9 102.7L379.9 103L380.9 103.4L381.9 103.7L382.9 104L383.9 104.4L384.9 104.7L385.9 105L386.9 105.4L387.9 105.7L388.9 106L389.9 106.2L390.9 106.4L391.9 106.6L392.9 106.8L393.9 107L394.9 107.2L395.9 107.3L396.9 107.4L397.9 107.4L526 107.4" fill="#60E8A3" fill-opacity="0.9" stroke="#1c1c1c" stroke-width="1.15"/>

<path d="M106.9 107.4L342.9 107.4L343.9 107.4L344.9 107.4L345.9 107.4L346.9 107.3L347.9 107.3L348.9 107.3L349.9 107.3L350.9 107.2L351.9 107.2L352.9 107.1L353.9 107.1L354.9 107.1L355.9 107L356.9 107L357.9 106.9L358.9 106.9L359.9 106.9L360.9 106.8L361.9 106.8L362.9 106.8L363.9 106.7L364.9 106.7L365.9 106.6L366.9 106.6L367.9 106.6L368.9 106.5L369.9 106.5L370.9 106.4L371.9 106.4L372.9 106.3L373.9 106.3L374.9 106.2L375.9 106.2L376.9 106.1L377.9 106L378.9 106L379.9 105.9L380.9 105.9L381.9 105.8L382.9 105.7L383.9 105.6L384.9 105.6L385.9 105.5L386.9 105.4L387.9 105.3L388.9 105.1L389.9 105L390.9 104.9L391.9 104.8L392.9 104.6L393.9 104.5L394.9 104.3L395.9 104.2L396.9 104L397.9 103.9L398.9 103.7L399.9 103.5L400.9 103.3L401.9 103.1L402.9 102.9L403.9 102.7L404.9 102.5L405.9 102.3L406.9 102.1L407.9 101.8L408.9 101.6L409.9 101.4L410.9 101.3L411.9 101.1L412.9 100.9L413.9 100.7L414.9 100.6L415.9 100.4L416.9 100.2L417.9 100L418.9 99.9L419.9 99.7L420.9 99.5L421.9 99.3L422.9 99.1L423.9 98.8L424.9 98.6L425.9 98.3L426.9 98L427.9 97.8L428.9 97.6L429.9 97.4L430.9 97.2L431.9 97L432.9 96.8L433.9 96.6L434.9 96.5L435.9 96.5L436.9 96.5L437.9 96.6L438.9 96.8L439.9 97L440.9 97.2L441.9 97.5L442.9 97.9L443.9 98.3L444.9 98.7L445.9 99.2L446.9 99.5L447.9 99.9L448.9 100.2L449.9 100.6L450.9 100.9L451.9 101.2L452.9 101.6L453.9 101.9L454.9 102.2L455.9 102.6L456.9 102.9L457.9 103.2L458.9 103.6L459.9 104L460.9 104.3L461.9 104.7L462.9 105L463.9 105.3L464.9 105.6L465.9 105.8L466.9 106L467.9 106.1L468.9 106.2L469.9 106.4L470.9 106.5L471.9 106.6L472.9 106.7L473.9 106.8L474.9 106.9L475.9 107L476.9 107.1L477.9 107.2L478.9 107.3L479.9 107.4L480.9 107.4L481.9 107.4L526 107.4" fill="#EC8D72" fill-opacity="0.9" stroke="#1c1c1c" stroke-width="1.15"/>

<path d="M106.9 118L206.9 118L207.9 118L208.9 118L209.9 117.9L210.9 117.9L211.9 117.9L212.9 117.9L213.9 117.8L214.9 117.8L215.9 117.8L216.9 117.7L217.9 117.7L218.9 117.6L219.9 117.6L220.9 117.6L221.9 117.5L222.9 117.5L223.9 117.4L224.9 117.4L225.9 117.4L226.9 117.4L227.9 117.3L228.9 117.3L229.9 117.3L230.9 117.2L231.9 117.2L232.9 117.2L233.9 117.1L234.9 117.1L235.9 117L236.9 117L237.9 117L238.9 116.9L239.9 116.9L240.9 116.8L241.9 116.7L242.9 116.7L243.9 116.6L244.9 116.5L245.9 116.5L246.9 116.4L247.9 116.3L248.9 116.2L249.9 116.1L250.9 115.9L251.9 115.8L252.9 115.7L253.9 115.5L254.9 115.3L255.9 115.1L256.9 114.8L257.9 114.5L258.9 114.2L259.9 113.9L260.9 113.6L261.9 113.3L262.9 113.1L263.9 112.8L264.9 112.6L265.9 112.3L266.9 112.1L267.9 111.9L268.9 111.6L269.9 111.4L270.9 111.1L271.9 110.8L272.9 110.5L273.9 110.2L274.9 109.9L275.9 109.6L276.9 109.3L277.9 109.1L278.9 108.8L279.9 108.5L280.9 108.3L281.9 108L282.9 107.8L283.9 107.7L284.9 107.6L285.9 107.6L286.9 107.6L287.9 107.6L288.9 107.6L289.9 107.7L290.9 107.7L291.9 107.9L292.9 108L293.9 108.2L294.9 108.5L295.9 108.8L296.9 109.2L297.9 109.6L298.9 110.1L299.9 110.6L300.9 111L301.9 111.4L302.9 111.7L303.9 112.1L304.9 112.4L305.9 112.8L306.9 113.1L307.9 113.4L308.9 113.7L309.9 114L310.9 114.2L311.9 114.5L312.9 114.7L313.9 114.9L314.9 115.1L315.9 115.3L316.9 115.5L317.9 115.7L318.9 115.9L319.9 116.1L320.9 116.3L321.9 116.5L322.9 116.7L323.9 116.8L324.9 117L325.9 117.2L326.9 117.3L327.9 117.5L328.9 117.6L329.9 117.7L330.9 117.8L331.9 117.9L332.9 117.9L333.9 117.9L334.9 117.9L335.9 117.9L336.9 117.9L337.9 117.9L338.9 117.9L339.9 117.9L340.9 117.9L341.9 117.9L342.9 117.9L343.9 117.9L344.9 117.9L345.9 117.9L346.9 117.9L347.9 117.9L348.9 117.9L349.9 117.9L350.9 117.9L351.9 117.9L352.9 117.9L353.9 117.9L354.9 117.9L355.9 117.9L356.9 117.9L357.9 117.9L358.9 117.9L359.9 117.9L360.9 117.9L361.9 117.9L362.9 117.9L363.9 117.9L364.9 117.9L365.9 117.9L366.9 117.9L367.9 117.9L368.9 117.9L369.9 117.9L370.9 117.9L371.9 117.9L372.9 117.9L373.9 117.9L374.9 117.9L375.9 117.9L376.9 117.9L377.9 117.9L378.9 117.9L379.9 117.9L380.9 117.9L381.9 117.9L382.9 117.9L383.9 117.9L384.9 118L385.9 118L386.9 118L387.9 118L388.9 118L389.9 118L390.9 118L391.9 118L392.9 118L393.9 118L394.9 118L395.9 118L396.9 118L397.9 118L398.9 118L399.9 118L400.9 118L401.9 118L402.9 118L403.9 118L404.9 118L405.9 118L406.9 118L407.9 118L408.9 118L409.9 118L410.9 118L411.9 118L412.9 118L413.9 118L414.9 118L415.9 118L416.9 118L417.9 118L418.9 118L419.9 118L420.9 118L421.9 118L422.9 118L423.9 118L424.9 118L425.9 118L426.9 118L427.9 118L428.9 118L429.9 118L430.9 118L431.9 118L432.9 118L433.9 118L526 118" fill="#60E8A3" fill-opacity="0.9" stroke="#1c1c1c" stroke-width="1.15"/>

<path d="M106.9 118L339.9 118L340.9 118L341.9 117.9L342.9 117.9L343.9 117.8L344.9 117.8L345.9 117.7L346.9 117.7L347.9 117.6L348.9 117.5L349.9 117.5L350.9 117.4L351.9 117.3L352.9 117.2L353.9 117.1L354.9 116.9L355.9 116.8L356.9 116.6L357.9 116.5L358.9 116.3L359.9 116.1L360.9 115.9L361.9 115.7L362.9 115.4L363.9 115.2L364.9 114.9L365.9 114.6L366.9 114.3L367.9 114L368.9 113.7L369.9 113.3L370.9 112.9L371.9 112.5L372.9 112.1L373.9 111.6L374.9 111.2L375.9 110.7L376.9 110.3L377.9 109.8L378.9 109.2L379.9 108.7L380.9 108.1L381.9 107.6L382.9 107.1L383.9 106.6L384.9 106.2L385.9 105.9L386.9 105.5L387.9 105.2L388.9 105L389.9 104.7L390.9 104.6L391.9 104.5L392.9 104.4L393.9 104.3L394.9 104.2L395.9 104.1L396.9 104.1L397.9 104.1L398.9 104.1L399.9 104.2L400.9 104.5L401.9 104.8L402.9 105.2L403.9 105.5L404.9 105.9L405.9 106.3L406.9 106.7L407.9 107.2L408.9 107.6L409.9 108.1L410.9 108.6L411.9 109L412.9 109.4L413.9 109.9L414.9 110.3L415.9 110.7L416.9 111.1L417.9 111.5L418.9 111.9L419.9 112.3L420.9 112.8L421.9 113.2L422.9 113.7L423.9 114.2L424.9 114.7L425.9 115.3L426.9 115.8L427.9 116.3L428.9 116.6L429.9 116.9L430.9 117.3L431.9 117.5L432.9 117.8L433.9 117.9L434.9 118L526 118" fill="#EC8D72" fill-opacity="0.9" stroke="#1c1c1c" stroke-width="1.15"/>

<path d="M106.9 128.6L221.9 128.6L222.9 128.5L223.9 128.5L224.9 128.5L225.9 128.4L226.9 128.4L227.9 128.3L228.9 128.3L229.9 128.2L230.9 128.1L231.9 128.1L232.9 128L233.9 127.8L234.9 127.7L235.9 127.5L236.9 127.3L237.9 127.1L238.9 126.9L239.9 126.7L240.9 126.5L241.9 126.3L242.9 126.1L243.9 125.9L244.9 125.8L245.9 125.6L246.9 125.4L247.9 125.2L248.9 125L249.9 124.8L250.9 124.6L251.9 124.3L252.9 124.1L253.9 123.8L254.9 123.6L255.9 123.3L256.9 123L257.9 122.7L258.9 122.5L259.9 122.2L260.9 121.9L261.9 121.6L262.9 121.4L263.9 121.1L264.9 120.8L265.9 120.5L266.9 120.2L267.9 120L268.9 119.7L269.9 119.4L270.9 119.1L271.9 118.9L272.9 118.6L273.9 118.3L274.9 118L275.9 117.6L276.9 117.3L277.9 116.9L278.9 116.6L279.9 116.3L280.9 116.1L281.9 115.9L282.9 115.8L283.9 115.8L284.9 115.8L285.9 115.8L286.9 115.9L287.9 115.9L288.9 116L289.9 116.2L290.9 116.4L291.9 116.7L292.9 117L293.9 117.5L294.9 118.1L295.9 118.7L296.9 119.4L297.9 120.1L298.9 120.7L299.9 121.1L300.9 121.6L301.9 122.1L302.9 122.5L303.9 123L304.9 123.4L305.9 123.8L306.9 124.3L307.9 124.7L308.9 125.2L309.9 125.6L310.9 125.9L311.9 126.3L312.9 126.6L313.9 126.9L314.9 127.2L315.9 127.5L316.9 127.7L317.9 127.9L318.9 128.1L319.9 128.2L320.9 128.3L321.9 128.4L322.9 128.5L323.9 128.5L324.9 128.6L526 128.6" fill="#60E8A3" fill-opacity="0.9" stroke="#1c1c1c" stroke-width="1.15"/>

<path d="M106.9 128.6L275.9 128.6L276.9 128.5L277.9 128.5L278.9 128.4L279.9 128.3L280.9 128.2L281.9 128.1L282.9 128L283.9 127.9L284.9 127.7L285.9 127.6L286.9 127.5L287.9 127.3L288.9 127.2L289.9 127.1L290.9 126.9L291.9 126.8L292.9 126.7L293.9 126.5L294.9 126.4L295.9 126.2L296.9 126.1L297.9 125.9L298.9 125.8L299.9 125.6L300.9 125.4L301.9 125.2L302.9 125.1L303.9 124.9L304.9 124.7L305.9 124.5L306.9 124.2L307.9 124L308.9 123.7L309.9 123.4L310.9 123.1L311.9 122.9L312.9 122.6L313.9 122.3L314.9 122L315.9 121.7L316.9 121.4L317.9 121.1L318.9 120.8L319.9 120.6L320.9 120.3L321.9 120L322.9 119.8L323.9 119.5L324.9 119.2L325.9 118.9L326.9 118.7L327.9 118.4L328.9 118.2L329.9 117.9L330.9 117.7L331.9 117.6L332.9 117.4L333.9 117.3L334.9 117.2L335.9 117.1L336.9 117.1L337.9 117L338.9 117L339.9 117L340.9 117L341.9 117.2L342.9 117.4L343.9 117.7L344.9 118L345.9 118.3L346.9 118.6L347.9 118.9L348.9 119.3L349.9 119.6L350.9 120L351.9 120.3L352.9 120.7L353.9 121.1L354.9 121.5L355.9 121.8L356.9 122.1L357.9 122.3L358.9 122.6L359.9 122.8L360.9 123L361.9 123.3L362.9 123.5L363.9 123.7L364.9 123.9L365.9 124.2L366.9 124.4L367.9 124.6L368.9 124.8L369.9 125L370.9 125.1L371.9 125.3L372.9 125.5L373.9 125.6L374.9 125.8L375.9 125.9L376.9 126.1L377.9 126.2L378.9 126.4L379.9 126.5L380.9 126.6L381.9 126.7L382.9 126.9L383.9 127L384.9 127.1L385.9 127.2L386.9 127.3L387.9 127.4L388.9 127.5L389.9 127.6L390.9 127.7L391.9 127.8L392.9 127.9L393.9 128L394.9 128.1L395.9 128.2L396.9 128.3L397.9 128.4L398.9 128.4L399.9 128.5L400.9 128.6L401.9 128.6L526 128.6" fill="#EC8D72" fill-opacity="0.9" stroke="#1c1c1c" stroke-width="1.15"/>

<path d="M106.9 139.2L138.9 139.1L139.9 139.1L140.9 139.1L141.9 139L142.9 139L143.9 138.9L144.9 138.9L145.9 138.8L146.9 138.8L147.9 138.8L148.9 138.8L149.9 138.8L150.9 138.8L151.9 138.8L152.9 138.8L153.9 138.8L154.9 138.8L155.9 138.8L156.9 138.8L157.9 138.8L158.9 138.8L159.9 138.8L160.9 138.8L161.9 138.8L162.9 138.8L163.9 138.8L164.9 138.9L165.9 138.9L166.9 139L167.9 139L168.9 139.1L169.9 139.1L170.9 139.1L208.9 139.1L209.9 139.1L210.9 139.1L211.9 139.1L212.9 139.1L213.9 139.1L214.9 139.1L215.9 139.1L216.9 139L217.9 139L218.9 139L219.9 139L220.9 139L221.9 138.9L222.9 138.9L223.9 138.9L224.9 138.8L225.9 138.8L226.9 138.8L227.9 138.7L228.9 138.6L229.9 138.5L230.9 138.4L231.9 138.3L232.9 138.1L233.9 138L234.9 137.9L235.9 137.7L236.9 137.6L237.9 137.4L238.9 137.2L239.9 137L240.9 136.8L241.9 136.6L242.9 136.4L243.9 136.2L244.9 136L245.9 135.8L246.9 135.6L247.9 135.3L248.9 135.1L249.9 134.9L250.9 134.7L251.9 134.5L252.9 134.3L253.9 134.1L254.9 133.9L255.9 133.6L256.9 133.4L257.9 133.2L258.9 133L259.9 132.8L260.9 132.6L261.9 132.4L262.9 132.2L263.9 132.1L264.9 131.9L265.9 131.7L266.9 131.5L267.9 131.3L268.9 131.2L269.9 131L270.9 130.9L271.9 130.7L272.9 130.6L273.9 130.4L274.9 130.3L275.9 130.1L276.9 130L277.9 129.9L278.9 129.7L279.9 129.6L280.9 129.4L281.9 129.3L282.9 129.2L283.9 129.1L284.9 129L285.9 129.1L286.9 129.1L287.9 129.2L288.9 129.3L289.9 129.4L290.9 129.6L291.9 129.7L292.9 129.9L293.9 130.1L294.9 130.3L295.9 130.6L296.9 130.9L297.9 131.1L298.9 131.4L299.9 131.7L300.9 132.1L301.9 132.5L302.9 132.9L303.9 133.2L304.9 133.5L305.9 133.8L306.9 134L307.9 134.3L308.9 134.5L309.9 134.9L310.9 135.3L311.9 135.8L312.9 136.2L313.9 136.6L314.9 137L315.9 137.3L316.9 137.7L317.9 138L318.9 138.3L319.9 138.5L320.9 138.7L321.9 138.8L322.9 138.9L323.9 139L324.9 139L325.9 139.1L326.9 139.1L327.9 139.1L328.9 139.1L526 139.2" fill="#60E8A3" fill-opacity="0.9" stroke="#1c1c1c" stroke-width="1.15"/>

<path d="M106.9 139.2L285.9 139.1L286.9 139.1L287.9 139.1L288.9 139L289.9 138.9L290.9 138.9L291.9 138.8L292.9 138.7L293.9 138.6L294.9 138.5L295.9 138.3L296.9 138.2L297.9 138L298.9 137.8L299.9 137.6L300.9 137.3L301.9 137.1L302.9 136.8L303.9 136.5L304.9 136.2L305.9 135.8L306.9 135.5L307.9 135.1L308.9 134.8L309.9 134.6L310.9 134.3L311.9 134.1L312.9 133.9L313.9 133.6L314.9 133.4L315.9 133.2L316.9 133L317.9 132.8L318.9 132.6L319.9 132.4L320.9 132.2L321.9 132L322.9 131.8L323.9 131.6L324.9 131.4L325.9 131.2L326.9 131L327.9 130.8L328.9 130.6L329.9 130.5L330.9 130.3L331.9 130.1L332.9 130L333.9 129.8L334.9 129.6L335.9 129.5L336.9 129.3L337.9 129.2L338.9 129L339.9 129L340.9 128.9L341.9 128.8L342.9 128.8L343.9 128.7L344.9 128.7L345.9 128.7L346.9 128.6L347.9 128.6L348.9 128.6L349.9 128.6L350.9 128.5L351.9 128.5L352.9 128.6L353.9 128.8L354.9 129.1L355.9 129.4L356.9 129.8L357.9 130.1L358.9 130.4L359.9 130.8L360.9 131.1L361.9 131.4L362.9 131.8L363.9 132.1L364.9 132.5L365.9 132.9L366.9 133.3L367.9 133.6L368.9 134L369.9 134.3L370.9 134.7L371.9 135L372.9 135.4L373.9 135.8L374.9 136.1L375.9 136.4L376.9 136.7L377.9 137L378.9 137.2L379.9 137.4L380.9 137.7L381.9 137.9L382.9 138L383.9 138.2L384.9 138.3L385.9 138.5L386.9 138.6L387.9 138.7L388.9 138.8L389.9 138.9L390.9 139L391.9 139L392.9 139.1L393.9 139.1L394.9 139.1L395.9 139.1L396.9 139.1L526 139.2" fill="#EC8D72" fill-opacity="0.9" stroke="#1c1c1c" stroke-width="1.15"/>

<path d="M106.9 149.7L271.9 149.7L272.9 149.7L273.9 149.7L274.9 149.7L275.9 149.6L276.9 149.6L277.9 149.6L278.9 149.6L279.9 149.5L280.9 149.5L281.9 149.5L282.9 149.5L283.9 149.5L284.9 149.4L285.9 149.4L286.9 149.4L287.9 149.3L288.9 149.2L289.9 149.1L290.9 149L291.9 148.9L292.9 148.7L293.9 148.4L294.9 148L295.9 147.5L296.9 147L297.9 146.4L298.9 145.8L299.9 145L300.9 144.2L301.9 143.3L302.9 142.4L303.9 141.4L304.9 140.4L305.9 139.3L306.9 138.4L307.9 137.5L308.9 136.8L309.9 136L310.9 135.3L311.9 134.8L312.9 134.3L313.9 133.9L314.9 133.5L315.9 133.2L316.9 132.9L317.9 132.6L318.9 132.4L319.9 132.5L320.9 132.6L321.9 132.8L322.9 133L323.9 133.3L324.9 133.6L325.9 134.1L326.9 134.5L327.9 134.9L328.9 135.4L329.9 135.9L330.9 136.4L331.9 137.1L332.9 137.8L333.9 138.6L334.9 139.3L335.9 140.1L336.9 140.9L337.9 141.7L338.9 142.6L339.9 143.5L340.9 144.4L341.9 145.2L342.9 146L343.9 146.6L344.9 147.2L345.9 147.8L346.9 148.2L347.9 148.5L348.9 148.8L349.9 149L350.9 149.2L351.9 149.4L352.9 149.6L353.9 149.7L354.9 149.7L526 149.7" fill="#60E8A3" fill-opacity="0.9" stroke="#1c1c1c" stroke-width="1.15"/>

<path d="M106.9 149.7L327.9 149.7L328.9 149.7L329.9 149.6L330.9 149.5L331.9 149.4L332.9 149.2L333.9 149L334.9 148.8L335.9 148.7L336.9 148.4L337.9 148.2L338.9 147.8L339.9 147.5L340.9 147.1L341.9 146.8L342.9 146.4L343.9 146.1L344.9 145.8L345.9 145.5L346.9 145.1L347.9 144.8L348.9 144.5L349.9 144.1L350.9 143.8L351.9 143.5L352.9 143.2L353.9 142.9L354.9 142.6L355.9 142.3L356.9 142.1L357.9 141.8L358.9 141.5L359.9 141.2L360.9 141L361.9 140.7L362.9 140.5L363.9 140.2L364.9 140L365.9 139.8L366.9 139.5L367.9 139.4L368.9 139.2L369.9 139L370.9 138.8L371.9 138.7L372.9 138.5L373.9 138.4L374.9 138.3L375.9 138.1L376.9 138L377.9 137.9L378.9 137.8L379.9 137.7L380.9 137.6L381.9 137.5L382.9 137.5L383.9 137.4L384.9 137.5L385.9 137.6L386.9 137.7L387.9 137.9L388.9 138.1L389.9 138.4L390.9 138.8L391.9 139.1L392.9 139.5L393.9 139.9L394.9 140.3L395.9 140.8L396.9 141.3L397.9 141.9L398.9 142.4L399.9 142.9L400.9 143.4L401.9 143.9L402.9 144.4L403.9 144.8L404.9 145.3L405.9 145.7L406.9 146.1L407.9 146.5L408.9 146.8L409.9 147.2L410.9 147.5L411.9 147.8L412.9 148.1L413.9 148.4L414.9 148.7L415.9 148.9L416.9 149.1L417.9 149.3L418.9 149.4L419.9 149.5L420.9 149.5L421.9 149.6L422.9 149.7L423.9 149.7L526 149.7" fill="#EC8D72" fill-opacity="0.9" stroke="#1c1c1c" stroke-width="1.15"/>

<path d="M106.9 160.3L233.9 160.3L234.9 160.3L235.9 160.2L236.9 160.2L237.9 160.1L238.9 160.1L239.9 160L240.9 160L241.9 159.9L242.9 159.9L243.9 159.8L244.9 159.7L245.9 159.6L246.9 159.5L247.9 159.4L248.9 159.2L249.9 159L250.9 158.9L251.9 158.7L252.9 158.5L253.9 158.3L254.9 158.2L255.9 158L256.9 157.8L257.9 157.7L258.9 157.5L259.9 157.4L260.9 157.2L261.9 157.1L262.9 156.9L263.9 156.8L264.9 156.6L265.9 156.5L266.9 156.3L267.9 156.2L268.9 156L269.9 155.9L270.9 155.8L271.9 155.7L272.9 155.6L273.9 155.5L274.9 155.4L275.9 155.3L276.9 155.2L277.9 155.1L278.9 154.9L279.9 154.8L280.9 154.7L281.9 154.6L282.9 154.5L283.9 154.4L284.9 154.3L285.9 154.1L286.9 154L287.9 153.9L288.9 153.8L289.9 153.6L290.9 153.5L291.9 153.4L292.9 153.3L293.9 153.2L294.9 153.1L295.9 153L296.9 152.9L297.9 152.8L298.9 152.7L299.9 152.6L300.9 152.5L301.9 152.5L302.9 152.5L303.9 152.5L304.9 152.5L305.9 152.6L306.9 152.6L307.9 152.6L308.9 152.6L309.9 152.6L310.9 152.7L311.9 152.7L312.9 152.7L313.9 152.8L314.9 152.9L315.9 153L316.9 153.2L317.9 153.4L318.9 153.6L319.9 153.8L320.9 154L321.9 154.2L322.9 154.4L323.9 154.6L324.9 154.8L325.9 155L326.9 155.2L327.9 155.5L328.9 155.7L329.9 156L330.9 156.2L331.9 156.5L332.9 156.7L333.9 157L334.9 157.2L335.9 157.5L336.9 157.8L337.9 158L338.9 158.3L339.9 158.6L340.9 158.8L341.9 159L342.9 159.2L343.9 159.4L344.9 159.7L345.9 159.9L346.9 160L347.9 160.2L348.9 160.3L349.9 160.3L526 160.3" fill="#60E8A3" fill-opacity="0.9" stroke="#1c1c1c" stroke-width="1.15"/>

<path d="M106.9 160.3L328.9 160.3L329.9 160.3L330.9 160.2L331.9 160.2L332.9 160.1L333.9 160.1L334.9 160L335.9 159.9L336.9 159.8L337.9 159.7L338.9 159.6L339.9 159.5L340.9 159.4L341.9 159.3L342.9 159.1L343.9 158.9L344.9 158.7L345.9 158.4L346.9 158.1L347.9 157.8L348.9 157.5L349.9 157.1L350.9 156.8L351.9 156.4L352.9 156.1L353.9 155.7L354.9 155.4L355.9 155.1L356.9 154.8L357.9 154.5L358.9 154.2L359.9 153.9L360.9 153.6L361.9 153.3L362.9 153L363.9 152.7L364.9 152.4L365.9 152.1L366.9 151.8L367.9 151.4L368.9 151.1L369.9 150.8L370.9 150.4L371.9 150.1L372.9 149.8L373.9 149.5L374.9 149.2L375.9 148.8L376.9 148.5L377.9 148.3L378.9 148.2L379.9 148.2L380.9 148.3L381.9 148.3L382.9 148.3L383.9 148.4L384.9 148.5L385.9 148.6L386.9 148.7L387.9 148.9L388.9 149.1L389.9 149.4L390.9 149.7L391.9 150.1L392.9 150.5L393.9 150.9L394.9 151.3L395.9 151.7L396.9 152L397.9 152.4L398.9 152.7L399.9 153L400.9 153.3L401.9 153.6L402.9 153.9L403.9 154.2L404.9 154.4L405.9 154.7L406.9 154.9L407.9 155.2L408.9 155.4L409.9 155.5L410.9 155.7L411.9 155.9L412.9 156L413.9 156.1L414.9 156.3L415.9 156.4L416.9 156.5L417.9 156.6L418.9 156.8L419.9 156.9L420.9 157L421.9 157.2L422.9 157.3L423.9 157.4L424.9 157.6L425.9 157.7L426.9 157.8L427.9 158L428.9 158.1L429.9 158.2L430.9 158.3L431.9 158.5L432.9 158.6L433.9 158.7L434.9 158.8L435.9 159L436.9 159.1L437.9 159.2L438.9 159.3L439.9 159.5L440.9 159.6L441.9 159.7L442.9 159.8L443.9 159.9L444.9 159.9L445.9 160L446.9 160L447.9 160.1L448.9 160.1L449.9 160.2L450.9 160.2L451.9 160.2L452.9 160.3L453.9 160.3L526 160.3" fill="#EC8D72" fill-opacity="0.9" stroke="#1c1c1c" stroke-width="1.15"/>

<path d="M106.9 170.9L256.9 170.8L257.9 170.8L258.9 170.8L259.9 170.8L260.9 170.8L261.9 170.7L262.9 170.7L263.9 170.7L264.9 170.6L265.9 170.6L266.9 170.5L267.9 170.5L268.9 170.4L269.9 170.4L270.9 170.3L271.9 170.2L272.9 170.1L273.9 169.9L274.9 169.8L275.9 169.7L276.9 169.5L277.9 169.4L278.9 169.2L279.9 169L280.9 168.8L281.9 168.6L282.9 168.3L283.9 168L284.9 167.7L285.9 167.4L286.9 167.2L287.9 166.9L288.9 166.6L289.9 166.3L290.9 165.9L291.9 165.6L292.9 165.2L293.9 164.8L294.9 164.5L295.9 164.2L296.9 163.9L297.9 163.6L298.9 163.4L299.9 163.2L300.9 162.9L301.9 162.7L302.9 162.6L303.9 162.4L304.9 162.3L305.9 162.2L306.9 162.1L307.9 162L308.9 161.9L309.9 161.8L310.9 161.7L311.9 161.7L312.9 161.6L313.9 161.6L314.9 161.5L315.9 161.5L316.9 161.5L317.9 161.5L318.9 161.5L319.9 161.5L320.9 161.5L321.9 161.5L322.9 161.5L323.9 161.5L324.9 161.5L325.9 161.5L326.9 161.5L327.9 161.5L328.9 161.5L329.9 161.6L330.9 161.7L331.9 161.8L332.9 162L333.9 162.2L334.9 162.4L335.9 162.6L336.9 162.8L337.9 163L338.9 163.2L339.9 163.4L340.9 163.7L341.9 163.9L342.9 164.2L343.9 164.5L344.9 164.9L345.9 165.2L346.9 165.5L347.9 165.8L348.9 166.1L349.9 166.4L350.9 166.7L351.9 167L352.9 167.3L353.9 167.6L354.9 167.9L355.9 168.2L356.9 168.5L357.9 168.7L358.9 168.9L359.9 169.1L360.9 169.2L361.9 169.4L362.9 169.5L363.9 169.7L364.9 169.8L365.9 169.9L366.9 170L367.9 170.1L368.9 170.2L369.9 170.3L370.9 170.4L371.9 170.5L372.9 170.6L373.9 170.7L374.9 170.7L375.9 170.8L376.9 170.8L526 170.9" fill="#60E8A3" fill-opacity="0.9" stroke="#1c1c1c" stroke-width="1.15"/>

<path d="M106.9 170.9L363.9 170.8L364.9 170.8L365.9 170.8L366.9 170.8L367.9 170.8L368.9 170.7L369.9 170.7L370.9 170.7L371.9 170.6L372.9 170.6L373.9 170.5L374.9 170.5L375.9 170.4L376.9 170.4L377.9 170.4L378.9 170.3L379.9 170.3L380.9 170.2L381.9 170.2L382.9 170.1L383.9 170L384.9 170L385.9 169.9L386.9 169.8L387.9 169.8L388.9 169.7L389.9 169.6L390.9 169.5L391.9 169.5L392.9 169.4L393.9 169.3L394.9 169.2L395.9 169.1L396.9 169L397.9 168.9L398.9 168.9L399.9 168.7L400.9 168.6L401.9 168.5L402.9 168.4L403.9 168.2L404.9 168.1L405.9 168L406.9 167.8L407.9 167.7L408.9 167.6L409.9 167.5L410.9 167.4L411.9 167.4L412.9 167.3L413.9 167.3L414.9 167.2L415.9 167.2L416.9 167.1L417.9 167L418.9 166.9L419.9 166.8L420.9 166.7L421.9 166.4L422.9 166L423.9 165.6L424.9 165.1L425.9 164.6L426.9 164L427.9 163.5L428.9 163L429.9 162.5L430.9 162L431.9 161.6L432.9 161.1L433.9 160.7L434.9 160.2L435.9 159.8L436.9 159.4L437.9 159.1L438.9 158.8L439.9 158.7L440.9 158.6L441.9 158.5L442.9 158.4L443.9 158.4L444.9 158.3L445.9 158.3L446.9 158.3L447.9 158.4L448.9 158.4L449.9 158.5L450.9 158.6L451.9 158.7L452.9 158.9L453.9 159.3L454.9 159.8L455.9 160.4L456.9 160.8L457.9 161.2L458.9 161.6L459.9 162L460.9 162.4L461.9 162.8L462.9 163.1L463.9 163.5L464.9 163.9L465.9 164.3L466.9 164.6L467.9 165L468.9 165.4L469.9 165.8L470.9 166.2L471.9 166.6L472.9 167L473.9 167.3L474.9 167.7L475.9 168L476.9 168.3L477.9 168.7L478.9 169L479.9 169.3L480.9 169.6L481.9 169.9L482.9 170.1L483.9 170.2L484.9 170.4L485.9 170.5L486.9 170.7L487.9 170.8L488.9 170.8L489.9 170.9L526 170.9" fill="#EC8D72" fill-opacity="0.9" stroke="#1c1c1c" stroke-width="1.15"/>

<path d="M106.9 181.4L276.9 181.4L277.9 181.4L278.9 181.4L279.9 181.3L280.9 181.2L281.9 181.2L282.9 181.1L283.9 181L284.9 180.9L285.9 180.8L286.9 180.7L287.9 180.6L288.9 180.4L289.9 180.2L290.9 179.9L291.9 179.5L292.9 179.1L293.9 178.6L294.9 178.1L295.9 177.6L296.9 176.9L297.9 176.2L298.9 175.3L299.9 174.4L300.9 173.5L301.9 172.6L302.9 171.7L303.9 170.8L304.9 170L305.9 169.2L306.9 168.5L307.9 167.9L308.9 167.5L309.9 167L310.9 166.6L311.9 166.3L312.9 165.9L313.9 165.5L314.9 165.2L315.9 164.9L316.9 164.7L317.9 164.5L318.9 164.3L319.9 164.3L320.9 164.4L321.9 164.5L322.9 164.7L323.9 164.9L324.9 165.1L325.9 165.5L326.9 165.8L327.9 166.3L328.9 166.8L329.9 167.5L330.9 168.3L331.9 169.3L332.9 170.2L333.9 171.1L334.9 172.1L335.9 173.2L336.9 174.3L337.9 175.4L338.9 176.3L339.9 177L340.9 177.6L341.9 178.1L342.9 178.6L343.9 179L344.9 179.4L345.9 179.7L346.9 180.1L347.9 180.4L348.9 180.6L349.9 180.8L350.9 181L351.9 181.1L352.9 181.2L353.9 181.3L354.9 181.4L355.9 181.4L526 181.4" fill="#60E8A3" fill-opacity="0.9" stroke="#1c1c1c" stroke-width="1.15"/>

<path d="M106.9 181.4L327.9 181.4L328.9 181.4L329.9 181.3L330.9 181.2L331.9 181.1L332.9 180.9L333.9 180.7L334.9 180.5L335.9 180.3L336.9 180.1L337.9 179.9L338.9 179.6L339.9 179.4L340.9 179L341.9 178.7L342.9 178.3L343.9 178L344.9 177.6L345.9 177.3L346.9 177L347.9 176.7L348.9 176.3L349.9 176L350.9 175.7L351.9 175.4L352.9 175.1L353.9 174.8L354.9 174.6L355.9 174.4L356.9 174.2L357.9 174.1L358.9 173.9L359.9 173.7L360.9 173.6L361.9 173.4L362.9 173.3L363.9 173.1L364.9 173L365.9 172.9L366.9 172.7L367.9 172.6L368.9 172.5L369.9 172.4L370.9 172.3L371.9 172.2L372.9 172.2L373.9 172.1L374.9 172L375.9 171.9L376.9 171.8L377.9 171.7L378.9 171.7L379.9 171.6L380.9 171.6L381.9 171.5L382.9 171.5L383.9 171.5L384.9 171.5L385.9 171.5L386.9 171.5L387.9 171.6L388.9 171.6L389.9 171.6L390.9 171.6L391.9 171.7L392.9 171.8L393.9 171.9L394.9 172L395.9 172.2L396.9 172.4L397.9 172.6L398.9 172.8L399.9 173.1L400.9 173.4L401.9 173.8L402.9 174.2L403.9 174.6L404.9 175L405.9 175.4L406.9 175.8L407.9 176.3L408.9 176.7L409.9 177.2L410.9 177.6L411.9 178L412.9 178.3L413.9 178.7L414.9 179.1L415.9 179.4L416.9 179.8L417.9 180L418.9 180.3L419.9 180.5L420.9 180.7L421.9 180.8L422.9 181L423.9 181.1L424.9 181.2L425.9 181.3L426.9 181.4L427.9 181.4L526 181.4" fill="#EC8D72" fill-opacity="0.9" stroke="#1c1c1c" stroke-width="1.15"/>

<path d="M106.9 192L118.9 192L119.9 191.9L120.9 191.9L121.9 191.8L122.9 191.7L123.9 191.7L124.9 191.7L125.9 191.7L126.9 191.7L127.9 191.7L128.9 191.7L129.9 191.7L130.9 191.7L131.9 191.7L132.9 191.7L133.9 191.7L134.9 191.7L135.9 191.7L136.9 191.7L137.9 191.7L138.9 191.7L139.9 191.7L140.9 191.7L141.9 191.7L142.9 191.8L143.9 191.8L144.9 191.8L145.9 191.9L146.9 191.9L147.9 192L148.9 192L203.9 192L204.9 192L205.9 192L206.9 191.9L207.9 191.9L208.9 191.9L209.9 191.9L210.9 191.9L211.9 191.9L212.9 191.8L213.9 191.8L214.9 191.8L215.9 191.8L216.9 191.8L217.9 191.8L218.9 191.7L219.9 191.7L220.9 191.7L221.9 191.7L222.9 191.7L223.9 191.6L224.9 191.6L225.9 191.6L226.9 191.6L227.9 191.5L228.9 191.5L229.9 191.4L230.9 191.4L231.9 191.3L232.9 191.2L233.9 191L234.9 190.9L235.9 190.7L236.9 190.5L237.9 190.3L238.9 190.1L239.9 189.9L240.9 189.7L241.9 189.4L242.9 189.2L243.9 188.9L244.9 188.7L245.9 188.5L246.9 188.4L247.9 188.2L248.9 188.1L249.9 188L250.9 187.9L251.9 187.7L252.9 187.6L253.9 187.5L254.9 187.4L255.9 187.2L256.9 187.1L257.9 186.9L258.9 186.7L259.9 186.6L260.9 186.4L261.9 186.3L262.9 186.1L263.9 186L264.9 185.8L265.9 185.7L266.9 185.6L267.9 185.4L268.9 185.3L269.9 185.2L270.9 185.1L271.9 185L272.9 184.9L273.9 184.8L274.9 184.7L275.9 184.7L276.9 184.6L277.9 184.5L278.9 184.5L279.9 184.4L280.9 184.3L281.9 184.3L282.9 184.2L283.9 184.2L284.9 184.2L285.9 184.1L286.9 184.1L287.9 184.1L288.9 184.1L289.9 184.1L290.9 184.1L291.9 184.1L292.9 184.1L293.9 184.1L294.9 184.1L295.9 184.1L296.9 184.1L297.9 184L298.9 184L299.9 184L300.9 184L301.9 184.3L302.9 184.6L303.9 185L304.9 185.4L305.9 185.9L306.9 186.5L307.9 187L308.9 187.6L309.9 188.2L310.9 188.9L311.9 189.5L312.9 190L313.9 190.4L314.9 190.8L315.9 191.1L316.9 191.4L317.9 191.6L318.9 191.7L319.9 191.8L320.9 191.9L321.9 191.9L322.9 192L526 192" fill="#60E8A3" fill-opacity="0.9" stroke="#1c1c1c" stroke-width="1.15"/>

<path d="M106.9 192L280.9 192L281.9 192L282.9 191.9L283.9 191.9L284.9 191.8L285.9 191.7L286.9 191.6L287.9 191.5L288.9 191.4L289.9 191.3L290.9 191.1L291.9 190.9L292.9 190.7L293.9 190.5L294.9 190.2L295.9 190L296.9 189.7L297.9 189.3L298.9 189L299.9 188.6L300.9 188.3L301.9 188L302.9 187.8L303.9 187.5L304.9 187.2L305.9 187L306.9 186.9L307.9 186.7L308.9 186.5L309.9 186.4L310.9 186.3L311.9 186.2L312.9 186.2L313.9 186.1L314.9 186.1L315.9 186L316.9 186L317.9 186L318.9 186L319.9 185.9L320.9 185.9L321.9 185.9L322.9 185.9L323.9 185.9L324.9 185.9L325.9 185.9L326.9 185.9L327.9 185.9L328.9 185.9L329.9 185.9L330.9 185.9L331.9 185.9L332.9 185.9L333.9 185.9L334.9 185.9L335.9 185.9L336.9 185.9L337.9 186L338.9 186L339.9 186L340.9 186L341.9 186L342.9 186L343.9 186L344.9 186L345.9 186L346.9 186L347.9 186.1L348.9 186.1L349.9 186.1L350.9 186.2L351.9 186.3L352.9 186.3L353.9 186.4L354.9 186.4L355.9 186.5L356.9 186.6L357.9 186.7L358.9 186.7L359.9 186.8L360.9 186.9L361.9 186.9L362.9 187L363.9 187.1L364.9 187.2L365.9 187.3L366.9 187.4L367.9 187.5L368.9 187.5L369.9 187.6L370.9 187.7L371.9 187.8L372.9 187.9L373.9 188L374.9 188.1L375.9 188.2L376.9 188.3L377.9 188.4L378.9 188.5L379.9 188.6L380.9 188.7L381.9 188.8L382.9 189L383.9 189.1L384.9 189.3L385.9 189.4L386.9 189.5L387.9 189.7L388.9 189.8L389.9 189.9L390.9 190L391.9 190.1L392.9 190.2L393.9 190.2L394.9 190.3L395.9 190.4L396.9 190.5L397.9 190.5L398.9 190.6L399.9 190.7L400.9 190.7L401.9 190.8L402.9 190.8L403.9 190.9L404.9 190.9L405.9 191L406.9 191L407.9 191.1L408.9 191.1L409.9 191.2L410.9 191.2L411.9 191.3L412.9 191.3L413.9 191.4L414.9 191.4L415.9 191.5L416.9 191.6L417.9 191.7L418.9 191.7L419.9 191.8L420.9 191.9L421.9 191.9L422.9 192L423.9 192L526 192" fill="#EC8D72" fill-opacity="0.9" stroke="#1c1c1c" stroke-width="1.15"/>

<path d="M106.9 202.6L286.9 202.5L287.9 202.5L288.9 202.5L289.9 202.5L290.9 202.4L291.9 202.4L292.9 202.3L293.9 202.3L294.9 202.2L295.9 202L296.9 201.7L297.9 201.4L298.9 201.1L299.9 200.8L300.9 200.5L301.9 200.3L302.9 200.1L303.9 200L304.9 199.9L305.9 199.7L306.9 199.6L307.9 199.5L308.9 199.4L309.9 199.2L310.9 199L311.9 198.9L312.9 198.7L313.9 198.5L314.9 198.3L315.9 198L316.9 197.8L317.9 197.5L318.9 197.2L319.9 196.9L320.9 196.5L321.9 196.2L322.9 195.8L323.9 195.4L324.9 195L325.9 194.7L326.9 194.3L327.9 194L328.9 193.6L329.9 193.3L330.9 193L331.9 192.8L332.9 192.6L333.9 192.4L334.9 192.2L335.9 192.1L336.9 192L337.9 191.9L338.9 191.8L339.9 191.6L340.9 191.5L341.9 191.5L342.9 191.4L343.9 191.3L344.9 191.3L345.9 191.3L346.9 191.3L347.9 191.4L348.9 191.5L349.9 191.6L350.9 191.7L351.9 191.9L352.9 192.1L353.9 192.2L354.9 192.4L355.9 192.6L356.9 192.8L357.9 193L358.9 193.3L359.9 193.6L360.9 194L361.9 194.3L362.9 194.7L363.9 195.1L364.9 195.5L365.9 195.9L366.9 196.3L367.9 196.6L368.9 197L369.9 197.4L370.9 197.8L371.9 198.1L372.9 198.5L373.9 198.9L374.9 199.2L375.9 199.6L376.9 199.9L377.9 200.2L378.9 200.5L379.9 200.8L380.9 201L381.9 201.3L382.9 201.5L383.9 201.7L384.9 201.9L385.9 202.1L386.9 202.3L387.9 202.4L388.9 202.5L389.9 202.6L526 202.6" fill="#60E8A3" fill-opacity="0.9" stroke="#1c1c1c" stroke-width="1.15"/>

<path d="M106.9 202.6L367.9 202.6L368.9 202.5L369.9 202.4L370.9 202.3L371.9 202.1L372.9 201.9L373.9 201.7L374.9 201.4L375.9 201.2L376.9 201L377.9 200.8L378.9 200.5L379.9 200.2L380.9 199.9L381.9 199.6L382.9 199.3L383.9 199L384.9 198.7L385.9 198.4L386.9 198.1L387.9 197.8L388.9 197.4L389.9 197.1L390.9 196.8L391.9 196.5L392.9 196.2L393.9 195.8L394.9 195.5L395.9 195.2L396.9 194.8L397.9 194.5L398.9 194.2L399.9 193.8L400.9 193.5L401.9 193.2L402.9 192.8L403.9 192.5L404.9 192.1L405.9 191.8L406.9 191.5L407.9 191.2L408.9 191L409.9 190.8L410.9 190.7L411.9 190.5L412.9 190.4L413.9 190.3L414.9 190.3L415.9 190.3L416.9 190.4L417.9 190.5L418.9 190.6L419.9 190.7L420.9 190.9L421.9 191L422.9 191.2L423.9 191.4L424.9 191.6L425.9 191.9L426.9 192.2L427.9 192.6L428.9 193L429.9 193.4L430.9 193.8L431.9 194.2L432.9 194.7L433.9 195.1L434.9 195.5L435.9 195.8L436.9 196.3L437.9 196.7L438.9 197.1L439.9 197.5L440.9 197.9L441.9 198.3L442.9 198.7L443.9 199.1L444.9 199.4L445.9 199.7L446.9 200L447.9 200.3L448.9 200.6L449.9 200.9L450.9 201.2L451.9 201.4L452.9 201.6L453.9 201.8L454.9 201.9L455.9 202L456.9 202.2L457.9 202.3L458.9 202.4L459.9 202.5L460.9 202.5L461.9 202.6L526 202.6" fill="#EC8D72" fill-opacity="0.9" stroke="#1c1c1c" stroke-width="1.15"/>

<path d="M106.9 213.1L256.9 213.1L257.9 213.1L258.9 213.1L259.9 213.1L260.9 213L261.9 213L262.9 213L263.9 213L264.9 212.9L265.9 212.9L266.9 212.8L267.9 212.8L268.9 212.7L269.9 212.6L270.9 212.5L271.9 212.3L272.9 212.2L273.9 212.1L274.9 212L275.9 211.9L276.9 211.7L277.9 211.6L278.9 211.5L279.9 211.4L280.9 211.3L281.9 211.1L282.9 211L283.9 210.9L284.9 210.7L285.9 210.5L286.9 210.4L287.9 210.2L288.9 209.9L289.9 209.6L290.9 209.3L291.9 209L292.9 208.7L293.9 208.5L294.9 208.3L295.9 208L296.9 207.8L297.9 207.6L298.9 207.3L299.9 207.1L300.9 206.8L301.9 206.6L302.9 206.3L303.9 206.1L304.9 205.9L305.9 205.7L306.9 205.6L307.9 205.5L308.9 205.3L309.9 205.2L310.9 205.1L311.9 205L312.9 204.9L313.9 204.8L314.9 204.8L315.9 204.8L316.9 204.7L317.9 204.7L318.9 204.7L319.9 204.6L320.9 204.6L321.9 204.6L322.9 204.6L323.9 204.6L324.9 204.6L325.9 204.6L326.9 204.6L327.9 204.7L328.9 204.7L329.9 204.8L330.9 204.8L331.9 204.8L332.9 204.9L333.9 204.9L334.9 205L335.9 205.1L336.9 205.1L337.9 205.2L338.9 205.2L339.9 205.3L340.9 205.3L341.9 205.4L342.9 205.5L343.9 205.5L344.9 205.6L345.9 205.7L346.9 205.9L347.9 206.1L348.9 206.3L349.9 206.6L350.9 206.9L351.9 207.2L352.9 207.5L353.9 207.8L354.9 208.1L355.9 208.4L356.9 208.8L357.9 209.1L358.9 209.5L359.9 209.8L360.9 210.2L361.9 210.5L362.9 210.9L363.9 211.3L364.9 211.6L365.9 211.9L366.9 212.2L367.9 212.4L368.9 212.6L369.9 212.8L370.9 213L371.9 213.1L372.9 213.1L526 213.1" fill="#60E8A3" fill-opacity="0.9" stroke="#1c1c1c" stroke-width="1.15"/>

<path d="M106.9 213.1L352.9 213.1L353.9 213.1L354.9 213L355.9 212.9L356.9 212.8L357.9 212.6L358.9 212.5L359.9 212.3L360.9 212.2L361.9 212L362.9 211.8L363.9 211.6L364.9 211.3L365.9 211.1L366.9 210.8L367.9 210.5L368.9 210.1L369.9 209.8L370.9 209.5L371.9 209.2L372.9 208.8L373.9 208.5L374.9 208.1L375.9 207.8L376.9 207.4L377.9 207.1L378.9 206.8L379.9 206.5L380.9 206.2L381.9 205.8L382.9 205.5L383.9 205.2L384.9 204.9L385.9 204.7L386.9 204.4L387.9 204.2L388.9 203.9L389.9 203.8L390.9 203.6L391.9 203.4L392.9 203.3L393.9 203.2L394.9 203L395.9 202.9L396.9 202.8L397.9 202.7L398.9 202.6L399.9 202.5L400.9 202.5L401.9 202.5L402.9 202.5L403.9 202.7L404.9 202.8L405.9 203.1L406.9 203.3L407.9 203.6L408.9 203.9L409.9 204.3L410.9 204.6L411.9 204.9L412.9 205.1L413.9 205.4L414.9 205.7L415.9 206L416.9 206.3L417.9 206.7L418.9 207L419.9 207.3L420.9 207.6L421.9 207.9L422.9 208.2L423.9 208.5L424.9 208.7L425.9 209L426.9 209.3L427.9 209.5L428.9 209.8L429.9 210L430.9 210.3L431.9 210.5L432.9 210.7L433.9 210.9L434.9 211.1L435.9 211.2L436.9 211.4L437.9 211.6L438.9 211.7L439.9 211.8L440.9 212L441.9 212.1L442.9 212.2L443.9 212.3L444.9 212.4L445.9 212.5L446.9 212.6L447.9 212.7L448.9 212.8L449.9 212.9L450.9 213L451.9 213L452.9 213.1L453.9 213.1L526 213.1" fill="#EC8D72" fill-opacity="0.9" stroke="#1c1c1c" stroke-width="1.15"/>

<path d="M106.9 223.7L245.9 223.7L246.9 223.7L247.9 223.6L248.9 223.6L249.9 223.5L250.9 223.4L251.9 223.3L252.9 223.2L253.9 223.1L254.9 223L255.9 222.9L256.9 222.7L257.9 222.5L258.9 222.3L259.9 222L260.9 221.8L261.9 221.5L262.9 221.2L263.9 220.9L264.9 220.6L265.9 220.3L266.9 219.9L267.9 219.6L268.9 219.3L269.9 219L270.9 218.8L271.9 218.6L272.9 218.4L273.9 218.2L274.9 218.1L275.9 217.9L276.9 217.7L277.9 217.5L278.9 217.2L279.9 217L280.9 216.8L281.9 216.5L282.9 216.3L283.9 216.1L284.9 215.9L285.9 215.7L286.9 215.5L287.9 215.3L288.9 215.2L289.9 215L290.9 214.8L291.9 214.7L292.9 214.6L293.9 214.4L294.9 214.3L295.9 214.1L296.9 214L297.9 213.9L298.9 213.8L299.9 213.7L300.9 213.6L301.9 213.5L302.9 213.4L303.9 213.4L304.9 213.4L305.9 213.3L306.9 213.3L307.9 213.3L308.9 213.3L309.9 213.3L310.9 213.4L311.9 213.6L312.9 213.9L313.9 214.3L314.9 214.5L315.9 214.8L316.9 215.2L317.9 215.5L318.9 215.8L319.9 216.2L320.9 216.6L321.9 217.1L322.9 217.6L323.9 218.1L324.9 218.6L325.9 219.2L326.9 219.8L327.9 220.3L328.9 220.8L329.9 221.2L330.9 221.6L331.9 221.9L332.9 222.2L333.9 222.4L334.9 222.6L335.9 222.8L336.9 223L337.9 223.1L338.9 223.3L339.9 223.4L340.9 223.5L341.9 223.6L342.9 223.6L343.9 223.7L344.9 223.7L526 223.7" fill="#60E8A3" fill-opacity="0.9" stroke="#1c1c1c" stroke-width="1.15"/>

<path d="M106.9 223.7L268.9 223.7L269.9 223.7L270.9 223.6L271.9 223.6L272.9 223.6L273.9 223.5L274.9 223.5L275.9 223.4L276.9 223.3L277.9 223.2L278.9 223.1L279.9 223L280.9 222.9L281.9 222.8L282.9 222.7L283.9 222.6L284.9 222.5L285.9 222.3L286.9 222.2L287.9 222.1L288.9 222L289.9 221.9L290.9 221.8L291.9 221.7L292.9 221.6L293.9 221.6L294.9 221.5L295.9 221.4L296.9 221.4L297.9 221.3L298.9 221.2L299.9 221.2L300.9 221.1L301.9 221L302.9 220.9L303.9 220.9L304.9 220.8L305.9 220.7L306.9 220.6L307.9 220.6L308.9 220.5L309.9 220.4L310.9 220.3L311.9 220.3L312.9 220.2L313.9 220.2L314.9 220.1L315.9 220L316.9 220L317.9 219.9L318.9 219.9L319.9 219.8L320.9 219.8L321.9 219.7L322.9 219.7L323.9 219.6L324.9 219.6L325.9 219.5L326.9 219.5L327.9 219.4L328.9 219.4L329.9 219.3L330.9 219.3L331.9 219.2L332.9 219.2L333.9 219.2L334.9 219.2L335.9 219.1L336.9 219.1L337.9 219.1L338.9 219.1L339.9 219L340.9 219L341.9 219L342.9 219L343.9 219L344.9 219L345.9 219L346.9 219L347.9 219L348.9 219L349.9 219.1L350.9 219.1L351.9 219.2L352.9 219.2L353.9 219.3L354.9 219.3L355.9 219.3L356.9 219.4L357.9 219.4L358.9 219.5L359.9 219.5L360.9 219.5L361.9 219.6L362.9 219.6L363.9 219.6L364.9 219.7L365.9 219.7L366.9 219.7L367.9 219.7L368.9 219.7L369.9 219.6L370.9 219.6L371.9 219.5L372.9 219.4L373.9 219.3L374.9 219.2L375.9 219.2L376.9 219.1L377.9 219L378.9 219L379.9 219L380.9 219L381.9 219L382.9 219.1L383.9 219.1L384.9 219.2L385.9 219.3L386.9 219.4L387.9 219.5L388.9 219.5L389.9 219.6L390.9 219.7L391.9 219.8L392.9 219.8L393.9 219.9L394.9 219.9L395.9 220L396.9 220.1L397.9 220.1L398.9 220.2L399.9 220.3L400.9 220.3L401.9 220.4L402.9 220.5L403.9 220.5L404.9 220.6L405.9 220.6L406.9 220.7L407.9 220.7L408.9 220.8L409.9 220.8L410.9 220.9L411.9 220.9L412.9 221L413.9 221.1L414.9 221.1L415.9 221.2L416.9 221.3L417.9 221.4L418.9 221.5L419.9 221.6L420.9 221.7L421.9 221.7L422.9 221.8L423.9 221.9L424.9 222L425.9 222.1L426.9 222.2L427.9 222.2L428.9 222.3L429.9 222.4L430.9 222.5L431.9 222.5L432.9 222.6L433.9 222.7L434.9 222.7L435.9 222.8L436.9 222.9L437.9 222.9L438.9 223L439.9 223L440.9 223.1L441.9 223.1L442.9 223.2L443.9 223.2L444.9 223.3L445.9 223.3L446.9 223.4L447.9 223.4L448.9 223.5L449.9 223.5L450.9 223.5L451.9 223.6L452.9 223.6L453.9 223.6L454.9 223.7L455.9 223.7L526 223.7" fill="#EC8D72" fill-opacity="0.9" stroke="#1c1c1c" stroke-width="1.15"/>

<path d="M106.9 234.3L170.9 234.3L171.9 234.2L172.9 234.2L173.9 234.2L174.9 234.1L175.9 234.1L176.9 234.1L177.9 234L178.9 234L179.9 234L180.9 234L181.9 234L182.9 233.9L183.9 233.9L184.9 233.9L185.9 233.9L186.9 233.9L187.9 233.9L188.9 233.9L189.9 233.9L190.9 233.9L191.9 233.9L192.9 233.9L193.9 233.9L194.9 234L195.9 234L196.9 234L197.9 234L198.9 234.1L199.9 234.1L200.9 234.1L201.9 234.1L202.9 234.1L203.9 234.1L204.9 234.1L205.9 234.1L206.9 234.1L207.9 234.2L208.9 234.2L209.9 234.2L210.9 234.2L211.9 234.2L212.9 234.2L213.9 234.2L214.9 234.2L215.9 234.2L216.9 234.2L217.9 234.1L218.9 234.1L219.9 234L220.9 234L221.9 234L222.9 233.9L223.9 233.9L224.9 233.8L225.9 233.8L226.9 233.7L227.9 233.7L228.9 233.7L229.9 233.6L230.9 233.6L231.9 233.6L232.9 233.5L233.9 233.5L234.9 233.4L235.9 233.4L236.9 233.4L237.9 233.3L238.9 233.2L239.9 233.2L240.9 233.1L241.9 233L242.9 232.9L243.9 232.7L244.9 232.6L245.9 232.4L246.9 232.2L247.9 232.1L248.9 231.9L249.9 231.7L250.9 231.5L251.9 231.4L252.9 231.2L253.9 231.1L254.9 230.9L255.9 230.8L256.9 230.7L257.9 230.6L258.9 230.5L259.9 230.4L260.9 230.3L261.9 230.2L262.9 230.1L263.9 230L264.9 229.9L265.9 229.8L266.9 229.7L267.9 229.6L268.9 229.5L269.9 229.4L270.9 229.3L271.9 229.2L272.9 229.2L273.9 229.1L274.9 229L275.9 228.9L276.9 228.8L277.9 228.8L278.9 228.7L279.9 228.6L280.9 228.5L281.9 228.5L282.9 228.4L283.9 228.4L284.9 228.3L285.9 228.3L286.9 228.2L287.9 228.1L288.9 228.1L289.9 228L290.9 228L291.9 227.9L292.9 227.9L293.9 227.9L294.9 227.8L295.9 227.8L296.9 227.8L297.9 227.8L298.9 227.8L299.9 227.8L300.9 227.8L301.9 227.8L302.9 227.8L303.9 227.8L304.9 227.8L305.9 227.8L306.9 227.8L307.9 227.8L308.9 227.8L309.9 227.8L310.9 227.8L311.9 227.8L312.9 227.8L313.9 227.8L314.9 227.9L315.9 228L316.9 228.1L317.9 228.2L318.9 228.4L319.9 228.5L320.9 228.6L321.9 228.7L322.9 228.8L323.9 228.9L324.9 229L325.9 229.1L326.9 229.3L327.9 229.4L328.9 229.5L329.9 229.7L330.9 229.8L331.9 230L332.9 230.1L333.9 230.3L334.9 230.4L335.9 230.6L336.9 230.8L337.9 230.9L338.9 231.1L339.9 231.3L340.9 231.5L341.9 231.7L342.9 231.9L343.9 232L344.9 232.2L345.9 232.4L346.9 232.7L347.9 232.9L348.9 233.1L349.9 233.3L350.9 233.4L351.9 233.6L352.9 233.7L353.9 233.8L354.9 233.9L355.9 234L356.9 234.1L357.9 234.2L358.9 234.3L359.9 234.3L526 234.3" fill="#60E8A3" fill-opacity="0.9" stroke="#1c1c1c" stroke-width="1.15"/>

<path d="M106.9 234.3L277.9 234.3L278.9 234.3L279.9 234.2L280.9 234.1L281.9 234L282.9 233.9L283.9 233.8L284.9 233.7L285.9 233.5L286.9 233.4L287.9 233.2L288.9 233.1L289.9 233L290.9 232.9L291.9 232.9L292.9 232.8L293.9 232.8L294.9 232.7L295.9 232.7L296.9 232.7L297.9 232.7L298.9 232.6L299.9 232.6L300.9 232.5L301.9 232.5L302.9 232.5L303.9 232.4L304.9 232.4L305.9 232.3L306.9 232.3L307.9 232.3L308.9 232.2L309.9 232.2L310.9 232.2L311.9 232.2L312.9 232.2L313.9 232.2L314.9 232.2L315.9 232.2L316.9 232.2L317.9 232.2L318.9 232.3L319.9 232.3L320.9 232.3L321.9 232.3L322.9 232.3L323.9 232.3L324.9 232.3L325.9 232.3L326.9 232.3L327.9 232.3L328.9 232.2L329.9 232.2L330.9 232.2L331.9 232.2L332.9 232.2L333.9 232.2L334.9 232.1L335.9 232.1L336.9 232L337.9 232L338.9 231.9L339.9 231.8L340.9 231.7L341.9 231.7L342.9 231.6L343.9 231.5L344.9 231.4L345.9 231.3L346.9 231.2L347.9 231.1L348.9 231L349.9 230.9L350.9 230.7L351.9 230.5L352.9 230.3L353.9 230.1L354.9 229.9L355.9 229.7L356.9 229.6L357.9 229.4L358.9 229.3L359.9 229.2L360.9 229L361.9 228.9L362.9 228.8L363.9 228.7L364.9 228.6L365.9 228.5L366.9 228.4L367.9 228.3L368.9 228.3L369.9 228.2L370.9 228.1L371.9 228L372.9 228L373.9 227.9L374.9 227.8L375.9 227.7L376.9 227.6L377.9 227.5L378.9 227.5L379.9 227.4L380.9 227.3L381.9 227.2L382.9 227.2L383.9 227.1L384.9 227L385.9 226.9L386.9 226.9L387.9 226.8L388.9 226.8L389.9 226.8L390.9 226.8L391.9 226.8L392.9 226.8L393.9 226.8L394.9 226.8L395.9 226.8L396.9 226.8L397.9 226.8L398.9 226.9L399.9 226.9L400.9 227L401.9 227.1L402.9 227.2L403.9 227.3L404.9 227.4L405.9 227.5L406.9 227.7L407.9 227.8L408.9 228.1L409.9 228.3L410.9 228.5L411.9 228.8L412.9 229.1L413.9 229.3L414.9 229.6L415.9 229.8L416.9 230L417.9 230.1L418.9 230.2L419.9 230.4L420.9 230.5L421.9 230.6L422.9 230.7L423.9 230.8L424.9 230.9L425.9 231L426.9 231.1L427.9 231.2L428.9 231.3L429.9 231.3L430.9 231.4L431.9 231.4L432.9 231.5L433.9 231.5L434.9 231.6L435.9 231.7L436.9 231.7L437.9 231.8L438.9 231.9L439.9 232L440.9 232.1L441.9 232.2L442.9 232.3L443.9 232.5L444.9 232.6L445.9 232.7L446.9 232.9L447.9 233L448.9 233.2L449.9 233.3L450.9 233.4L451.9 233.6L452.9 233.7L453.9 233.9L454.9 234L455.9 234.2L456.9 234.2L457.9 234.3L526 234.3" fill="#EC8D72" fill-opacity="0.9" stroke="#1c1c1c" stroke-width="1.15"/>

<path d="M106.9 244.8L148.9 244.8L149.9 244.8L150.9 244.7L151.9 244.7L152.9 244.6L153.9 244.5L154.9 244.5L155.9 244.5L156.9 244.5L157.9 244.5L158.9 244.5L159.9 244.5L160.9 244.5L161.9 244.5L162.9 244.6L163.9 244.7L164.9 244.8L165.9 244.8L231.9 244.8L232.9 244.8L233.9 244.8L234.9 244.7L235.9 244.7L236.9 244.6L237.9 244.6L238.9 244.5L239.9 244.5L240.9 244.4L241.9 244.3L242.9 244.2L243.9 244.1L244.9 243.9L245.9 243.8L246.9 243.6L247.9 243.4L248.9 243.3L249.9 243.2L250.9 243L251.9 242.9L252.9 242.8L253.9 242.7L254.9 242.5L255.9 242.4L256.9 242.2L257.9 242L258.9 241.9L259.9 241.7L260.9 241.4L261.9 241.1L262.9 240.8L263.9 240.4L264.9 240L265.9 239.6L266.9 239.1L267.9 238.7L268.9 238.3L269.9 238L270.9 237.7L271.9 237.4L272.9 237.1L273.9 236.8L274.9 236.4L275.9 236L276.9 235.5L277.9 234.9L278.9 234.3L279.9 233.9L280.9 233.6L281.9 233.2L282.9 232.9L283.9 232.6L284.9 232.4L285.9 232.3L286.9 232.3L287.9 232.3L288.9 232.3L289.9 232.3L290.9 232.3L291.9 232.4L292.9 232.4L293.9 232.5L294.9 232.6L295.9 232.9L296.9 233.3L297.9 233.7L298.9 234.1L299.9 234.5L300.9 234.9L301.9 235.2L302.9 235.6L303.9 235.9L304.9 236.3L305.9 236.7L306.9 237L307.9 237.4L308.9 237.8L309.9 238.2L310.9 238.6L311.9 239.1L312.9 239.5L313.9 240L314.9 240.4L315.9 240.8L316.9 241.3L317.9 241.7L318.9 242L319.9 242.4L320.9 242.8L321.9 243.2L322.9 243.4L323.9 243.7L324.9 244L325.9 244.2L326.9 244.5L327.9 244.7L328.9 244.8L329.9 244.8L526 244.8" fill="#60E8A3" fill-opacity="0.9" stroke="#1c1c1c" stroke-width="1.15"/>

<path d="M106.9 244.8L307.9 244.8L308.9 244.8L309.9 244.7L310.9 244.6L311.9 244.5L312.9 244.3L313.9 244.1L314.9 243.9L315.9 243.7L316.9 243.5L317.9 243.3L318.9 243.2L319.9 243L320.9 242.9L321.9 242.7L322.9 242.5L323.9 242.4L324.9 242.2L325.9 242.1L326.9 241.9L327.9 241.8L328.9 241.6L329.9 241.5L330.9 241.3L331.9 241.2L332.9 241L333.9 240.9L334.9 240.7L335.9 240.5L336.9 240.4L337.9 240.2L338.9 240.1L339.9 239.9L340.9 239.8L341.9 239.6L342.9 239.4L343.9 239.3L344.9 239.1L345.9 238.9L346.9 238.8L347.9 238.6L348.9 238.5L349.9 238.3L350.9 238.2L351.9 238.1L352.9 237.9L353.9 237.8L354.9 237.7L355.9 237.6L356.9 237.5L357.9 237.4L358.9 237.3L359.9 237.2L360.9 237.1L361.9 237.1L362.9 237L363.9 236.9L364.9 236.8L365.9 236.7L366.9 236.7L367.9 236.6L368.9 236.6L369.9 236.5L370.9 236.5L371.9 236.5L372.9 236.5L373.9 236.5L374.9 236.5L375.9 236.5L376.9 236.6L377.9 236.6L378.9 236.6L379.9 236.7L380.9 236.7L381.9 236.7L382.9 236.8L383.9 236.8L384.9 236.9L385.9 236.9L386.9 237L387.9 237L388.9 237.1L389.9 237.2L390.9 237.3L391.9 237.4L392.9 237.6L393.9 237.8L394.9 238.1L395.9 238.5L396.9 238.8L397.9 239.2L398.9 239.5L399.9 239.9L400.9 240.2L401.9 240.5L402.9 240.8L403.9 241.1L404.9 241.4L405.9 241.6L406.9 241.9L407.9 242.2L408.9 242.5L409.9 242.7L410.9 243L411.9 243.2L412.9 243.4L413.9 243.6L414.9 243.8L415.9 244L416.9 244.2L417.9 244.3L418.9 244.5L419.9 244.6L420.9 244.6L421.9 244.7L422.9 244.8L423.9 244.8L424.9 244.8L526 244.8" fill="#EC8D72" fill-opacity="0.9" stroke="#1c1c1c" stroke-width="1.15"/>

<path d="M106.9 255.4L195.9 255.4L196.9 255.4L197.9 255.3L198.9 255.3L199.9 255.2L200.9 255.2L201.9 255.2L202.9 255.1L203.9 255.1L204.9 255.1L205.9 255.1L206.9 255.1L207.9 255L208.9 255L209.9 255L210.9 255L211.9 255L212.9 254.9L213.9 254.9L214.9 254.8L215.9 254.8L216.9 254.7L217.9 254.5L218.9 254.4L219.9 254.2L220.9 254L221.9 253.8L222.9 253.7L223.9 253.5L224.9 253.4L225.9 253.2L226.9 253L227.9 252.8L228.9 252.7L229.9 252.5L230.9 252.3L231.9 252.2L232.9 252L233.9 251.8L234.9 251.7L235.9 251.6L236.9 251.5L237.9 251.4L238.9 251.2L239.9 251.1L240.9 251L241.9 250.9L242.9 250.8L243.9 250.7L244.9 250.6L245.9 250.5L246.9 250.4L247.9 250.3L248.9 250.2L249.9 250.1L250.9 250L251.9 249.9L252.9 249.8L253.9 249.7L254.9 249.6L255.9 249.5L256.9 249.4L257.9 249.3L258.9 249.3L259.9 249.2L260.9 249.1L261.9 249L262.9 249L263.9 248.9L264.9 248.8L265.9 248.8L266.9 248.7L267.9 248.6L268.9 248.6L269.9 248.5L270.9 248.4L271.9 248.3L272.9 248.3L273.9 248.2L274.9 248.2L275.9 248.1L276.9 248.1L277.9 248.1L278.9 248.1L279.9 248.1L280.9 248.1L281.9 248.1L282.9 248.1L283.9 248.1L284.9 248.2L285.9 248.2L286.9 248.2L287.9 248.2L288.9 248.3L289.9 248.3L290.9 248.4L291.9 248.4L292.9 248.5L293.9 248.6L294.9 248.7L295.9 248.8L296.9 249L297.9 249.1L298.9 249.2L299.9 249.4L300.9 249.5L301.9 249.7L302.9 249.8L303.9 250L304.9 250.3L305.9 250.5L306.9 250.7L307.9 251L308.9 251.2L309.9 251.5L310.9 251.8L311.9 252.1L312.9 252.5L313.9 252.8L314.9 253.1L315.9 253.4L316.9 253.7L317.9 254L318.9 254.2L319.9 254.5L320.9 254.7L321.9 254.9L322.9 255L323.9 255.1L324.9 255.2L325.9 255.3L326.9 255.4L327.9 255.4L526 255.4" fill="#60E8A3" fill-opacity="0.9" stroke="#1c1c1c" stroke-width="1.15"/>

<path d="M106.9 255.4L286.9 255.4L287.9 255.4L288.9 255.4L289.9 255.3L290.9 255.3L291.9 255.3L292.9 255.2L293.9 255.2L294.9 255.1L295.9 255.1L296.9 255L297.9 255L298.9 254.9L299.9 254.9L300.9 254.8L301.9 254.8L302.9 254.7L303.9 254.6L304.9 254.5L305.9 254.4L306.9 254.4L307.9 254.3L308.9 254.2L309.9 254.1L310.9 254L311.9 253.9L312.9 253.8L313.9 253.7L314.9 253.6L315.9 253.5L316.9 253.4L317.9 253.3L318.9 253.2L319.9 253.1L320.9 253L321.9 252.9L322.9 252.8L323.9 252.7L324.9 252.6L325.9 252.5L326.9 252.4L327.9 252.3L328.9 252.3L329.9 252.2L330.9 252.1L331.9 252.1L332.9 252L333.9 252L334.9 251.9L335.9 251.9L336.9 251.8L337.9 251.8L338.9 251.7L339.9 251.7L340.9 251.6L341.9 251.6L342.9 251.5L343.9 251.5L344.9 251.5L345.9 251.5L346.9 251.5L347.9 251.4L348.9 251.4L349.9 251.4L350.9 251.4L351.9 251.4L352.9 251.4L353.9 251.4L354.9 251.4L355.9 251.4L356.9 251.4L357.9 251.4L358.9 251.4L359.9 251.4L360.9 251.4L361.9 251.4L362.9 251.4L363.9 251.4L364.9 251.3L365.9 251.3L366.9 251.3L367.9 251.3L368.9 251.2L369.9 251.2L370.9 251.2L371.9 251.2L372.9 251.2L373.9 251.2L374.9 251.2L375.9 251.3L376.9 251.3L377.9 251.4L378.9 251.4L379.9 251.5L380.9 251.5L381.9 251.5L382.9 251.6L383.9 251.6L384.9 251.7L385.9 251.7L386.9 251.7L387.9 251.8L388.9 251.8L389.9 251.8L390.9 251.9L391.9 251.9L392.9 252L393.9 252L394.9 252L395.9 252.1L396.9 252.1L397.9 252.2L398.9 252.2L399.9 252.3L400.9 252.3L401.9 252.4L402.9 252.4L403.9 252.5L404.9 252.5L405.9 252.6L406.9 252.7L407.9 252.8L408.9 252.9L409.9 253L410.9 253.1L411.9 253.2L412.9 253.3L413.9 253.4L414.9 253.6L415.9 253.7L416.9 253.8L417.9 253.9L418.9 254L419.9 254.1L420.9 254.2L421.9 254.3L422.9 254.4L423.9 254.4L424.9 254.5L425.9 254.5L426.9 254.6L427.9 254.6L428.9 254.7L429.9 254.7L430.9 254.8L431.9 254.8L432.9 254.9L433.9 254.9L434.9 254.9L435.9 255L436.9 255L437.9 255L438.9 255.1L439.9 255.1L440.9 255.2L441.9 255.2L442.9 255.2L443.9 255.3L444.9 255.3L445.9 255.4L446.9 255.4L526 255.4" fill="#EC8D72" fill-opacity="0.9" stroke="#1c1c1c" stroke-width="1.15"/>

<path d="M106.9 266L255.9 266L256.9 265.9L257.9 265.9L258.9 265.8L259.9 265.7L260.9 265.7L261.9 265.6L262.9 265.5L263.9 265.3L264.9 265.1L265.9 264.9L266.9 264.7L267.9 264.4L268.9 264.1L269.9 263.8L270.9 263.5L271.9 263.2L272.9 262.8L273.9 262.5L274.9 262.1L275.9 261.7L276.9 261.4L277.9 261L278.9 260.6L279.9 260.2L280.9 259.8L281.9 259.3L282.9 258.9L283.9 258.5L284.9 258L285.9 257.6L286.9 257.2L287.9 256.8L288.9 256.4L289.9 256.1L290.9 255.7L291.9 255.4L292.9 255.1L293.9 254.8L294.9 254.6L295.9 254.4L296.9 254.3L297.9 254.1L298.9 254L299.9 253.9L300.9 253.9L301.9 253.9L302.9 253.9L303.9 253.9L304.9 254L305.9 254.1L306.9 254.2L307.9 254.4L308.9 254.6L309.9 254.8L310.9 255.1L311.9 255.3L312.9 255.6L313.9 255.9L314.9 256.2L315.9 256.5L316.9 256.8L317.9 257.1L318.9 257.4L319.9 257.7L320.9 258L321.9 258.3L322.9 258.6L323.9 259L324.9 259.3L325.9 259.6L326.9 259.9L327.9 260.2L328.9 260.5L329.9 260.8L330.9 261.1L331.9 261.4L332.9 261.7L333.9 262L334.9 262.3L335.9 262.5L336.9 262.8L337.9 263.1L338.9 263.3L339.9 263.6L340.9 263.8L341.9 264.1L342.9 264.3L343.9 264.5L344.9 264.8L345.9 265L346.9 265.2L347.9 265.3L348.9 265.5L349.9 265.6L350.9 265.7L351.9 265.8L352.9 265.9L353.9 266L354.9 266L526 266" fill="#60E8A3" fill-opacity="0.9" stroke="#1c1c1c" stroke-width="1.15"/>

<path d="M106.9 266L330.9 266L331.9 265.9L332.9 265.8L333.9 265.7L334.9 265.6L335.9 265.5L336.9 265.2L337.9 264.8L338.9 264.3L339.9 263.8L340.9 263.3L341.9 262.9L342.9 262.6L343.9 262.2L344.9 261.8L345.9 261.4L346.9 260.9L347.9 260.3L348.9 259.7L349.9 259.2L350.9 258.6L351.9 258.1L352.9 257.5L353.9 257L354.9 256.4L355.9 255.9L356.9 255.4L357.9 255L358.9 254.6L359.9 254.3L360.9 254L361.9 253.7L362.9 253.4L363.9 253.2L364.9 253L365.9 252.8L366.9 252.6L367.9 252.5L368.9 252.4L369.9 252.3L370.9 252.3L371.9 252.2L372.9 252.2L373.9 252.2L374.9 252.2L375.9 252.2L376.9 252.3L377.9 252.3L378.9 252.4L379.9 252.5L380.9 252.7L381.9 253L382.9 253.3L383.9 253.7L384.9 254.1L385.9 254.5L386.9 254.9L387.9 255.3L388.9 255.7L389.9 256.2L390.9 256.7L391.9 257.3L392.9 257.9L393.9 258.5L394.9 259.1L395.9 259.8L396.9 260.5L397.9 261.2L398.9 261.9L399.9 262.6L400.9 263.1L401.9 263.5L402.9 263.9L403.9 264.3L404.9 264.6L405.9 264.9L406.9 265.1L407.9 265.3L408.9 265.5L409.9 265.6L410.9 265.8L411.9 265.9L412.9 265.9L413.9 266L526 266" fill="#EC8D72" fill-opacity="0.9" stroke="#1c1c1c" stroke-width="1.15"/>

<path d="M106.9 276.5L140.9 276.5L141.9 276.5L142.9 276.5L143.9 276.4L144.9 276.4L145.9 276.4L146.9 276.3L147.9 276.3L148.9 276.3L149.9 276.3L150.9 276.3L151.9 276.3L152.9 276.3L153.9 276.3L154.9 276.3L155.9 276.3L156.9 276.3L157.9 276.3L158.9 276.3L159.9 276.3L160.9 276.3L161.9 276.3L162.9 276.3L163.9 276.3L164.9 276.3L165.9 276.3L166.9 276.3L167.9 276.4L168.9 276.4L169.9 276.4L170.9 276.5L171.9 276.5L172.9 276.5L173.9 276.5L240.9 276.5L241.9 276.5L242.9 276.5L243.9 276.4L244.9 276.4L245.9 276.3L246.9 276.2L247.9 276.1L248.9 275.9L249.9 275.7L250.9 275.5L251.9 275.3L252.9 275L253.9 274.8L254.9 274.5L255.9 274.3L256.9 274L257.9 273.8L258.9 273.5L259.9 273.2L260.9 272.8L261.9 272.5L262.9 272.2L263.9 271.9L264.9 271.6L265.9 271.2L266.9 271L267.9 270.7L268.9 270.4L269.9 270.2L270.9 269.9L271.9 269.7L272.9 269.5L273.9 269.2L274.9 269L275.9 268.8L276.9 268.5L277.9 268.3L278.9 268.1L279.9 267.8L280.9 267.6L281.9 267.3L282.9 267.1L283.9 266.9L284.9 266.8L285.9 266.6L286.9 266.5L287.9 266.4L288.9 266.4L289.9 266.4L290.9 266.4L291.9 266.4L292.9 266.4L293.9 266.5L294.9 266.5L295.9 266.6L296.9 266.8L297.9 267.1L298.9 267.4L299.9 267.6L300.9 267.9L301.9 268.1L302.9 268.2L303.9 268.4L304.9 268.6L305.9 268.8L306.9 269L307.9 269.2L308.9 269.4L309.9 269.6L310.9 269.8L311.9 270L312.9 270.1L313.9 270.3L314.9 270.5L315.9 270.7L316.9 271L317.9 271.2L318.9 271.4L319.9 271.7L320.9 271.9L321.9 272.2L322.9 272.5L323.9 272.7L324.9 273L325.9 273.3L326.9 273.6L327.9 273.9L328.9 274.2L329.9 274.4L330.9 274.7L331.9 274.9L332.9 275.2L333.9 275.4L334.9 275.7L335.9 275.8L336.9 276L337.9 276.2L338.9 276.3L339.9 276.4L340.9 276.5L341.9 276.5L526 276.5" fill="#60E8A3" fill-opacity="0.9" stroke="#1c1c1c" stroke-width="1.15"/>

<path d="M106.9 276.5L275.9 276.5L276.9 276.5L277.9 276.5L278.9 276.4L279.9 276.4L280.9 276.3L281.9 276.2L282.9 276.2L283.9 276.1L284.9 276L285.9 275.8L286.9 275.7L287.9 275.5L288.9 275.4L289.9 275.3L290.9 275.2L291.9 275.1L292.9 275L293.9 274.9L294.9 274.9L295.9 274.8L296.9 274.7L297.9 274.6L298.9 274.6L299.9 274.5L300.9 274.4L301.9 274.3L302.9 274.1L303.9 274L304.9 273.9L305.9 273.8L306.9 273.6L307.9 273.5L308.9 273.4L309.9 273.2L310.9 273.1L311.9 272.9L312.9 272.8L313.9 272.6L314.9 272.5L315.9 272.3L316.9 272.2L317.9 272L318.9 271.8L319.9 271.7L320.9 271.6L321.9 271.4L322.9 271.3L323.9 271.2L324.9 271L325.9 270.9L326.9 270.8L327.9 270.7L328.9 270.5L329.9 270.4L330.9 270.3L331.9 270.2L332.9 270.1L333.9 270L334.9 269.9L335.9 269.8L336.9 269.7L337.9 269.6L338.9 269.5L339.9 269.4L340.9 269.3L341.9 269.2L342.9 269.1L343.9 269L344.9 269L345.9 268.9L346.9 268.8L347.9 268.8L348.9 268.7L349.9 268.6L350.9 268.6L351.9 268.5L352.9 268.5L353.9 268.4L354.9 268.4L355.9 268.4L356.9 268.3L357.9 268.3L358.9 268.2L359.9 268.2L360.9 268.2L361.9 268.2L362.9 268.1L363.9 268.1L364.9 268.1L365.9 268L366.9 268L367.9 268L368.9 268L369.9 268L370.9 268L371.9 268L372.9 268L373.9 268L374.9 268.1L375.9 268.2L376.9 268.2L377.9 268.4L378.9 268.5L379.9 268.7L380.9 268.9L381.9 269L382.9 269.3L383.9 269.5L384.9 269.7L385.9 270L386.9 270.2L387.9 270.5L388.9 270.7L389.9 271L390.9 271.3L391.9 271.7L392.9 272L393.9 272.4L394.9 272.7L395.9 272.9L396.9 273.2L397.9 273.4L398.9 273.6L399.9 273.8L400.9 274L401.9 274.3L402.9 274.5L403.9 274.7L404.9 274.8L405.9 275L406.9 275.2L407.9 275.4L408.9 275.5L409.9 275.7L410.9 275.8L411.9 275.9L412.9 276.1L413.9 276.1L414.9 276.2L415.9 276.3L416.9 276.4L417.9 276.4L418.9 276.5L419.9 276.5L420.9 276.5L526 276.5" fill="#EC8D72" fill-opacity="0.9" stroke="#1c1c1c" stroke-width="1.15"/>

<text transform="translate(81.2,59.65) scale(1,1.06)" text-anchor="end" font-size="12.9" fill="#000" stroke="#000" stroke-width="0.18">VIM</text>
<text transform="translate(81.2,70.22) scale(1,1.06)" text-anchor="end" font-size="12.9" fill="#000" stroke="#000" stroke-width="0.18">VEGFA</text>
<text transform="translate(81.2,80.79) scale(1,1.06)" text-anchor="end" font-size="12.9" fill="#000" stroke="#000" stroke-width="0.18">TIMP1</text>
<text transform="translate(81.2,91.36) scale(1,1.06)" text-anchor="end" font-size="12.9" fill="#000" stroke="#000" stroke-width="0.18">RARRES2</text>
<text transform="translate(81.2,101.93) scale(1,1.06)" text-anchor="end" font-size="12.9" fill="#000" stroke="#000" stroke-width="0.18">PLOD2</text>
<text transform="translate(81.2,112.5) scale(1,1.06)" text-anchor="end" font-size="12.9" fill="#000" stroke="#000" stroke-width="0.18">PLIN2</text>
<text transform="translate(81.2,123.06) scale(1,1.06)" text-anchor="end" font-size="12.9" fill="#000" stroke="#000" stroke-width="0.18">PFKP</text>
<text transform="translate(81.2,133.63) scale(1,1.06)" text-anchor="end" font-size="12.9" fill="#000" stroke="#000" stroke-width="0.18">P4HA1</text>
<text transform="translate(81.2,144.2) scale(1,1.06)" text-anchor="end" font-size="12.9" fill="#000" stroke="#000" stroke-width="0.18">MYOF</text>
<text transform="translate(81.2,154.77) scale(1,1.06)" text-anchor="end" font-size="12.9" fill="#000" stroke="#000" stroke-width="0.18">LIPA</text>
<text transform="translate(81.2,165.34) scale(1,1.06)" text-anchor="end" font-size="12.9" fill="#000" stroke="#000" stroke-width="0.18">LGALS1</text>
<text transform="translate(81.2,175.91) scale(1,1.06)" text-anchor="end" font-size="12.9" fill="#000" stroke="#000" stroke-width="0.18">IGFBP3</text>
<text transform="translate(81.2,186.48) scale(1,1.06)" text-anchor="end" font-size="12.9" fill="#000" stroke="#000" stroke-width="0.18">HPCAL1</text>
<text transform="translate(81.2,197.05) scale(1,1.06)" text-anchor="end" font-size="12.9" fill="#000" stroke="#000" stroke-width="0.18">HMOX1</text>
<text transform="translate(81.2,207.62) scale(1,1.06)" text-anchor="end" font-size="12.9" fill="#000" stroke="#000" stroke-width="0.18">HLA-DRA</text>
<text transform="translate(81.2,218.19) scale(1,1.06)" text-anchor="end" font-size="12.9" fill="#000" stroke="#000" stroke-width="0.18">HLA-DPB1</text>
<text transform="translate(81.2,228.75) scale(1,1.06)" text-anchor="end" font-size="12.9" fill="#000" stroke="#000" stroke-width="0.18">GPNMB</text>
<text transform="translate(81.2,239.32) scale(1,1.06)" text-anchor="end" font-size="12.9" fill="#000" stroke="#000" stroke-width="0.18">FN1</text>
<text transform="translate(81.2,249.89) scale(1,1.06)" text-anchor="end" font-size="12.9" fill="#000" stroke="#000" stroke-width="0.18">CCND1</text>
<text transform="translate(81.2,260.46) scale(1,1.06)" text-anchor="end" font-size="12.9" fill="#000" stroke="#000" stroke-width="0.18">C1S</text>
<text transform="translate(81.2,271.03) scale(1,1.06)" text-anchor="end" font-size="12.9" fill="#000" stroke="#000" stroke-width="0.18">ARHGDIB</text>
<text transform="translate(81.2,281.6) scale(1,1.06)" text-anchor="end" font-size="12.9" fill="#000" stroke="#000" stroke-width="0.18">ANXA1</text>
<text transform="translate(104.4,297.7) scale(1,1.06)" text-anchor="middle" font-size="12.8" fill="#000" stroke="#000" stroke-width="0.15">5.0</text>
<text transform="translate(192.82,297.7) scale(1,1.06)" text-anchor="middle" font-size="12.8" fill="#000" stroke="#000" stroke-width="0.15">7.5</text>
<text transform="translate(281.25,297.7) scale(1,1.06)" text-anchor="middle" font-size="12.8" fill="#000" stroke="#000" stroke-width="0.15">10.0</text>
<text transform="translate(369.67,297.7) scale(1,1.06)" text-anchor="middle" font-size="12.8" fill="#000" stroke="#000" stroke-width="0.15">12.5</text>
<text transform="translate(458.1,297.7) scale(1,1.06)" text-anchor="middle" font-size="12.8" fill="#000" stroke="#000" stroke-width="0.15">15.0</text>
<text x="315.8" y="311.6" text-anchor="middle" font-size="12.9" font-weight="bold" fill="#000">Log2(Gene expression)</text>
<text transform="translate(12.4,159.5) rotate(-90)" text-anchor="middle" font-size="12.9" font-weight="bold" fill="#000">Gene</text>
<rect x="253.6" y="3.4" width="16" height="15" fill="#60E8A3" fill-opacity="0.9" stroke="#1a1a1a" stroke-width="1"/>
<text transform="translate(276.5,15.7) scale(1,1.05)" font-size="12.9" fill="#000" stroke="#000" stroke-width="0.15">Normal</text>
<rect x="325.6" y="3.4" width="16" height="15" fill="#EC8D72" fill-opacity="0.9" stroke="#1a1a1a" stroke-width="1"/>
<text transform="translate(348.5,15.7) scale(1,1.05)" font-size="12.9" fill="#000" stroke="#000" stroke-width="0.15">Tumor</text>
</svg></body></html>
